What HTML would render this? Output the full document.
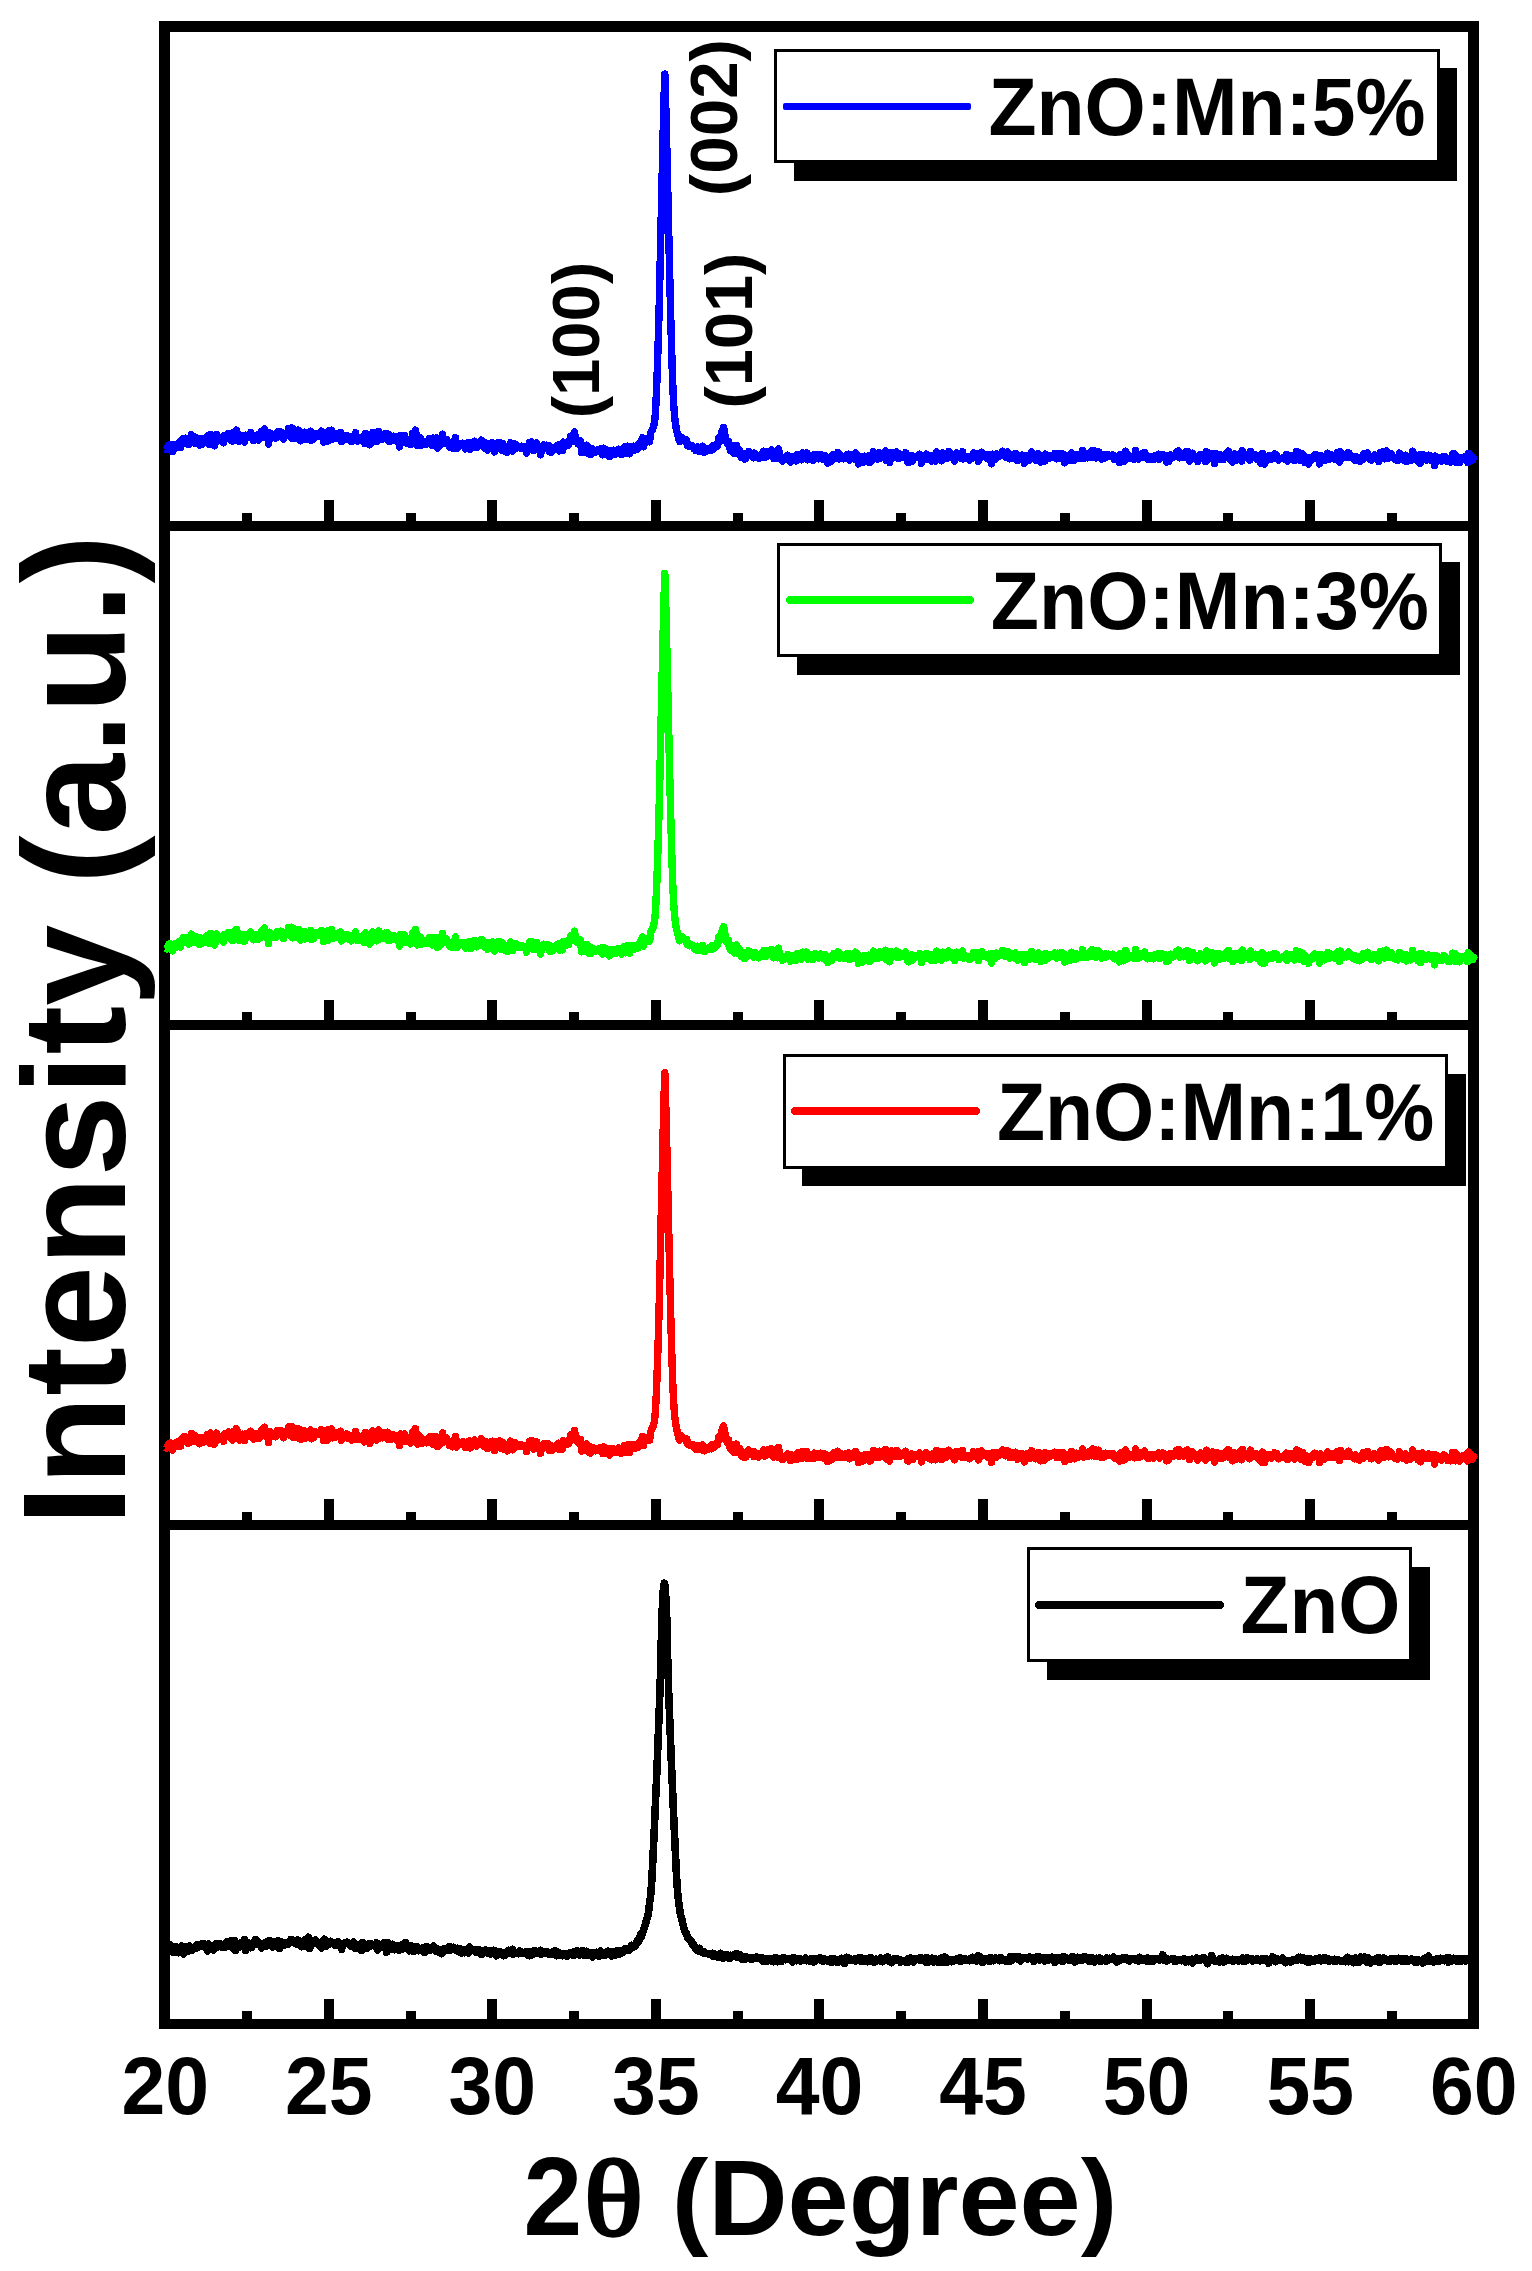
<!DOCTYPE html>
<html lang="en"><head><meta charset="utf-8"><title>XRD patterns of ZnO and ZnO:Mn thin films</title>
<style>
html,body{margin:0;padding:0;background:#fff;}
body{width:1532px;height:2271px;overflow:hidden;}
svg{display:block;}
text{font-family:"Liberation Sans",Arial,Helvetica,sans-serif;font-weight:700;fill:#000;font-kerning:none;}
.th{font-family:"Liberation Serif","DejaVu Serif",serif;font-weight:400;stroke:#000;stroke-width:3.6px;stroke-linejoin:round;}
</style></head><body>
<svg width="1532" height="2271" viewBox="0 0 1532 2271">
<rect x="0" y="0" width="1532" height="2271" fill="#fff"/>
<g shape-rendering="crispEdges"><rect x="159" y="21" width="11" height="2008" fill="#000"/><rect x="1468" y="21" width="11" height="2008" fill="#000"/><rect x="159" y="21" width="1320" height="11" fill="#000"/><rect x="159" y="521" width="1320" height="10" fill="#000"/><rect x="242" y="513" width="10" height="8" fill="#000"/><rect x="324" y="500" width="10" height="21" fill="#000"/><rect x="406" y="513" width="10" height="8" fill="#000"/><rect x="487" y="500" width="10" height="21" fill="#000"/><rect x="569" y="513" width="10" height="8" fill="#000"/><rect x="651" y="500" width="10" height="21" fill="#000"/><rect x="733" y="513" width="10" height="8" fill="#000"/><rect x="814" y="500" width="10" height="21" fill="#000"/><rect x="896" y="513" width="10" height="8" fill="#000"/><rect x="978" y="500" width="10" height="21" fill="#000"/><rect x="1060" y="513" width="10" height="8" fill="#000"/><rect x="1142" y="500" width="10" height="21" fill="#000"/><rect x="1223" y="513" width="10" height="8" fill="#000"/><rect x="1305" y="500" width="10" height="21" fill="#000"/><rect x="1387" y="513" width="10" height="8" fill="#000"/><rect x="159" y="1020" width="1320" height="10" fill="#000"/><rect x="242" y="1012" width="10" height="8" fill="#000"/><rect x="324" y="1000" width="10" height="20" fill="#000"/><rect x="406" y="1012" width="10" height="8" fill="#000"/><rect x="487" y="1000" width="10" height="20" fill="#000"/><rect x="569" y="1012" width="10" height="8" fill="#000"/><rect x="651" y="1000" width="10" height="20" fill="#000"/><rect x="733" y="1012" width="10" height="8" fill="#000"/><rect x="814" y="1000" width="10" height="20" fill="#000"/><rect x="896" y="1012" width="10" height="8" fill="#000"/><rect x="978" y="1000" width="10" height="20" fill="#000"/><rect x="1060" y="1012" width="10" height="8" fill="#000"/><rect x="1142" y="1000" width="10" height="20" fill="#000"/><rect x="1223" y="1012" width="10" height="8" fill="#000"/><rect x="1305" y="1000" width="10" height="20" fill="#000"/><rect x="1387" y="1012" width="10" height="8" fill="#000"/><rect x="159" y="1520" width="1320" height="10" fill="#000"/><rect x="242" y="1512" width="10" height="8" fill="#000"/><rect x="324" y="1499" width="10" height="21" fill="#000"/><rect x="406" y="1512" width="10" height="8" fill="#000"/><rect x="487" y="1499" width="10" height="21" fill="#000"/><rect x="569" y="1512" width="10" height="8" fill="#000"/><rect x="651" y="1499" width="10" height="21" fill="#000"/><rect x="733" y="1512" width="10" height="8" fill="#000"/><rect x="814" y="1499" width="10" height="21" fill="#000"/><rect x="896" y="1512" width="10" height="8" fill="#000"/><rect x="978" y="1499" width="10" height="21" fill="#000"/><rect x="1060" y="1512" width="10" height="8" fill="#000"/><rect x="1142" y="1499" width="10" height="21" fill="#000"/><rect x="1223" y="1512" width="10" height="8" fill="#000"/><rect x="1305" y="1499" width="10" height="21" fill="#000"/><rect x="1387" y="1512" width="10" height="8" fill="#000"/><rect x="159" y="2019" width="1320" height="10" fill="#000"/><rect x="242" y="2011" width="10" height="8" fill="#000"/><rect x="324" y="1999" width="10" height="20" fill="#000"/><rect x="406" y="2011" width="10" height="8" fill="#000"/><rect x="487" y="1999" width="10" height="20" fill="#000"/><rect x="569" y="2011" width="10" height="8" fill="#000"/><rect x="651" y="1999" width="10" height="20" fill="#000"/><rect x="733" y="2011" width="10" height="8" fill="#000"/><rect x="814" y="1999" width="10" height="20" fill="#000"/><rect x="896" y="2011" width="10" height="8" fill="#000"/><rect x="978" y="1999" width="10" height="20" fill="#000"/><rect x="1060" y="2011" width="10" height="8" fill="#000"/><rect x="1142" y="1999" width="10" height="20" fill="#000"/><rect x="1223" y="2011" width="10" height="8" fill="#000"/><rect x="1305" y="1999" width="10" height="20" fill="#000"/><rect x="1387" y="2011" width="10" height="8" fill="#000"/></g>
<g shape-rendering="crispEdges">
<polyline points="165.6,448.9 166.6,449.6 167.6,447.5 168.6,445.2 169.6,446.4 170.6,444.4 171.6,447.6 172.6,451.6 173.6,445.3 174.6,444.7 175.6,448.1 176.6,447.4 177.6,446.4 178.6,442.7 179.6,445.5 180.6,447.7 181.6,440.7 182.6,443.4 183.6,438.4 184.6,440.2 185.6,438.2 186.6,443.4 187.6,439.7 188.6,444.7 189.6,444.1 190.6,442.8 191.6,434.7 192.6,441.2 193.6,442.6 194.6,443 195.6,437.2 196.6,440.6 197.6,438.7 198.6,439.1 199.6,445.2 200.6,438.7 201.6,441.1 202.6,444.1 203.6,438.9 204.6,440.3 205.6,440.9 206.6,440.5 207.6,435.9 208.6,440.2 209.6,444.4 210.6,434.3 211.6,442.4 212.6,439.7 213.6,436.9 214.6,445.8 215.6,441.4 216.6,434.5 217.6,438.7 218.6,440.4 219.6,437.6 220.6,440.5 221.6,437.8 222.6,440.2 223.6,442.8 224.6,435.4 225.6,438.4 226.6,436 227.6,438 228.6,433.3 229.6,435.4 230.6,436.7 231.6,440.5 232.6,441.3 233.6,432.6 234.6,434.4 235.6,439.4 236.6,430.1 237.6,435.4 238.6,436.6 239.6,441.4 240.6,439.3 241.6,435.7 242.6,435.5 243.6,435.9 244.6,442.1 245.6,435.2 246.6,435.6 247.6,437.9 248.6,436.1 249.6,435.8 250.6,432.5 251.6,436.4 252.6,434.8 253.6,440.5 254.6,438.7 255.6,436.2 256.6,438.7 257.6,435 258.6,440 259.6,436.2 260.6,438.2 261.6,431.5 262.6,437.3 263.6,430 264.6,428.8 265.6,434.9 266.6,432.8 267.6,436.5 268.6,444 269.6,432.9 270.6,433.7 271.6,436.6 272.6,437.6 273.6,435.2 274.6,435.1 275.6,438.3 276.6,437.6 277.6,432 278.6,435.5 279.6,435.8 280.6,431.9 281.6,436.6 282.6,432.6 283.6,439.2 284.6,436.3 285.6,436 286.6,433.5 287.6,435.2 288.6,428.4 289.6,431.5 290.6,436.9 291.6,427.9 292.6,438.6 293.6,429.3 294.6,438.3 295.6,432.5 296.6,438.4 297.6,436.1 298.6,430.1 299.6,440.1 300.6,440.8 301.6,435.4 302.6,434.6 303.6,435.1 304.6,432.1 305.6,439.6 306.6,433.7 307.6,435.5 308.6,432.9 309.6,433.5 310.6,431.2 311.6,440.3 312.6,435.3 313.6,439.3 314.6,435.9 315.6,433.4 316.6,434.8 317.6,433.9 318.6,436 319.6,434.7 320.6,435 321.6,431.1 322.6,433.2 323.6,442.1 324.6,433.8 325.6,432.5 326.6,437.5 327.6,441.4 328.6,431.1 329.6,435.6 330.6,434.2 331.6,430.2 332.6,439.2 333.6,436.5 334.6,436.9 335.6,434 336.6,438.3 337.6,434.8 338.6,436.3 339.6,432.9 340.6,432.6 341.6,441.7 342.6,435.2 343.6,438.1 344.6,437 345.6,435.6 346.6,435.4 347.6,439.5 348.6,436.2 349.6,436.8 350.6,437.4 351.6,441.6 352.6,439.9 353.6,438.9 354.6,435.6 355.6,432.7 356.6,441 357.6,441.1 358.6,437.2 359.6,439.7 360.6,440.6 361.6,440.8 362.6,441.2 363.6,436.4 364.6,443.3 365.6,433.7 366.6,441.1 367.6,439.9 368.6,441.3 369.6,444.8 370.6,443.5 371.6,434.4 372.6,432.5 373.6,441.3 374.6,435 375.6,438.5 376.6,441.5 377.6,433 378.6,431.4 379.6,439.7 380.6,439 381.6,438.1 382.6,439.1 383.6,436.1 384.6,433.9 385.6,438.6 386.6,435.9 387.6,433.6 388.6,441.1 389.6,439.2 390.6,440.9 391.6,436.1 392.6,437.3 393.6,436.2 394.6,436.7 395.6,440.4 396.6,437.2 397.6,441.1 398.6,441.1 399.6,446.9 400.6,435.4 401.6,443.2 402.6,439.9 403.6,440.2 404.6,435.4 405.6,438.8 406.6,443 407.6,440.2 408.6,440.9 409.6,439.7 410.6,444.6 411.6,440.7 412.6,433.5 413.6,438.6 414.6,434.4 415.6,430.1 416.6,439.3 417.6,445.6 418.6,441.4 419.6,437.4 420.6,438.2 421.6,445.1 422.6,442 423.6,441.7 424.6,441.4 425.6,441.8 426.6,444.3 427.6,443.6 428.6,442.5 429.6,438.4 430.6,443.6 431.6,439.7 432.6,445.6 433.6,438 434.6,441.7 435.6,442.2 436.6,438 437.6,448 438.6,447.2 439.6,441 440.6,445.1 441.6,443.8 442.6,434.2 443.6,443.5 444.6,442.6 445.6,443.1 446.6,439.4 447.6,442.1 448.6,442.5 449.6,446.9 450.6,444.2 451.6,443.2 452.6,448.2 453.6,441.6 454.6,442.2 455.6,437.7 456.6,448.5 457.6,446.7 458.6,446.6 459.6,445.8 460.6,444.1 461.6,444.5 462.6,443.1 463.6,443.3 464.6,444.2 465.6,448.9 466.6,445.9 467.6,444 468.6,442.5 469.6,442.3 470.6,449.4 471.6,446 472.6,444.7 473.6,443.5 474.6,441.2 475.6,444.5 476.6,447.5 477.6,443.6 478.6,444.2 479.6,444.2 480.6,445.3 481.6,440.1 482.6,444.4 483.6,442.5 484.6,447.9 485.6,442.9 486.6,447.1 487.6,450.1 488.6,444.5 489.6,443.7 490.6,446.1 491.6,445.6 492.6,442.6 493.6,447.1 494.6,451.9 495.6,445 496.6,445.3 497.6,442.8 498.6,447 499.6,442.3 500.6,442.7 501.6,450 502.6,443.5 503.6,449.5 504.6,450.9 505.6,447.1 506.6,448.1 507.6,452.3 508.6,445.9 509.6,444.8 510.6,442.6 511.6,446.8 512.6,451.2 513.6,449.6 514.6,444 515.6,444.3 516.6,445.4 517.6,447.9 518.6,446.4 519.6,447.7 520.6,448 521.6,446.3 522.6,447.1 523.6,447.9 524.6,447.1 525.6,448.9 526.6,453 527.6,449.3 528.6,447.7 529.6,442.7 530.6,448.8 531.6,442 532.6,443.7 533.6,450.4 534.6,450 535.6,447.5 536.6,443 537.6,447 538.6,446.1 539.6,450 540.6,454.8 541.6,448.9 542.6,446.1 543.6,445 544.6,448.3 545.6,448 546.6,445.2 547.6,449 548.6,445.3 549.6,451.9 550.6,451.8 551.6,451.9 552.6,447.5 553.6,450.4 554.6,448.5 555.6,447.8 556.6,447.9 557.6,445.1 558.6,444.6 559.6,450.9 560.6,447.8 561.6,448.7 562.6,450.5 563.6,442.1 564.6,444.1 565.6,446.1 566.6,445.7 567.6,442.4 568.6,445.2 569.6,441.6 570.6,436.3 571.6,436 572.6,440 573.6,438.6 574.6,431.9 575.6,441.6 576.6,440.3 577.6,443.6 578.6,440.1 579.6,441.8 580.6,440.9 581.6,452.6 582.6,446.1 583.6,452.1 584.6,446.7 585.6,449.8 586.6,445.2 587.6,449.4 588.6,453.6 589.6,447.7 590.6,454.4 591.6,452.6 592.6,448.9 593.6,450.5 594.6,450.8 595.6,452 596.6,450.7 597.6,449.9 598.6,451.5 599.6,449.5 600.6,448.8 601.6,452.3 602.6,454.9 603.6,448.2 604.6,452.4 605.6,450.6 606.6,449.7 607.6,454.8 608.6,451 609.6,456.6 610.6,450.3 611.6,453.5 612.6,451.8 613.6,450.3 614.6,454 615.6,451.9 616.6,453.9 617.6,452.1 618.6,449.2 619.6,451.8 620.6,452.2 621.6,454.7 622.6,449.4 623.6,451.7 624.6,447 625.6,453.5 626.6,448.5 627.6,446.3 628.6,450.9 629.6,453.9 630.6,446.3 631.6,447.2 632.6,447.8 633.6,446.3 634.6,450 635.6,446.3 636.6,446 637.6,449 638.6,444.6 639.6,446.9 640.6,442 641.6,440.3 642.6,437.7 643.6,446.9 644.6,440.3 645.6,441.2 646.6,439.8 647.6,439.5 648.6,438.4 649.6,441.8 650.6,433.4 651.6,430.7 652.6,429.6 653.6,425.7 654.6,422.3 655.6,410 656.6,389.7 657.6,360.8 658.6,328.7 659.6,290.3 660.6,242.4 661.6,201.2 662.6,155.5 663.6,114.8 664.3,89.6 664.6,80.6 664.8,74.1 665.6,99.6 666.6,139.3 667.6,183.5 668.6,226.8 669.6,270.8 670.6,312.4 671.6,349.1 672.6,380.9 673.6,403 674.6,416.6 675.6,424.3 676.6,430.7 677.6,433.6 678.6,438.6 679.6,441.5 680.6,437.9 681.6,437.3 682.6,439.9 683.6,439.2 684.6,439.5 685.6,442 686.6,440.1 687.6,445.4 688.6,444.5 689.6,446.6 690.6,446.4 691.6,445.8 692.6,445.9 693.6,448.3 694.6,447.9 695.6,450.5 696.6,450.2 697.6,446.9 698.6,451.1 699.6,447.6 700.6,449.8 701.6,450.9 702.6,446.2 703.6,452.1 704.6,452.3 705.6,451.4 706.6,450.5 707.6,450.5 708.6,448.6 709.6,450.2 710.6,449 711.6,450.2 712.6,446 713.6,449.2 714.6,448.1 715.6,446.4 716.6,444.5 717.6,445.9 718.6,438.3 719.6,441.5 720.6,437.1 721.6,432.7 722.6,429.8 723.6,427.4 724.6,432.3 725.6,439.3 726.6,442.3 727.6,444.1 728.6,441.1 729.6,447.9 730.6,450.8 731.6,451.4 732.6,450.2 733.6,446.2 734.6,453.7 735.6,451.4 736.6,445.5 737.6,453.8 738.6,449.1 739.6,450 740.6,452 741.6,457.4 742.6,453.1 743.6,455 744.6,459.1 745.6,458.8 746.6,454.3 747.6,454.1 748.6,451.4 749.6,453 750.6,456.1 751.6,456.1 752.6,455.4 753.6,457.9 754.6,453.1 755.6,455.1 756.6,457.3 757.6,457 758.6,458.4 759.6,456.6 760.6,454.8 761.6,456.6 762.6,453 763.6,451.3 764.6,457.4 765.6,455.7 766.6,456.7 767.6,451.3 768.6,455 769.6,454.4 770.6,453.7 771.6,450 772.6,455.2 773.6,458.6 774.6,457.3 775.6,454.7 776.6,456.3 777.6,458.4 778.6,448.9 779.6,456.1 780.6,457.9 781.6,458.4 782.6,461.1 783.6,459.6 784.6,457.5 785.6,457.5 786.6,458.8 787.6,455.2 788.6,456.6 789.6,459.2 790.6,462.1 791.6,456.4 792.6,456.7 793.6,457.4 794.6,460.5 795.6,456.8 796.6,460.9 797.6,454.3 798.6,456.4 799.6,456.4 800.6,459 801.6,459.8 802.6,452.9 803.6,454.5 804.6,457.9 805.6,455.2 806.6,452.8 807.6,459.8 808.6,458.3 809.6,458.3 810.6,455.7 811.6,459.8 812.6,456.3 813.6,460 814.6,454.5 815.6,454.7 816.6,457.6 817.6,455.1 818.6,458.8 819.6,457.7 820.6,454.5 821.6,457.2 822.6,456.1 823.6,459.5 824.6,455.3 825.6,455.9 826.6,460.3 827.6,463.1 828.6,462.5 829.6,457.2 830.6,457.7 831.6,461.2 832.6,456.7 833.6,454.4 834.6,457.4 835.6,458.3 836.6,454.8 837.6,452.6 838.6,453.2 839.6,458.9 840.6,455 841.6,456.7 842.6,457.7 843.6,458.8 844.6,456.2 845.6,458.5 846.6,454.7 847.6,456.1 848.6,454.3 849.6,460.2 850.6,457 851.6,455.1 852.6,456.2 853.6,456.5 854.6,459 855.6,452.8 856.6,454.3 857.6,456.1 858.6,464 859.6,459.7 860.6,456.8 861.6,459.1 862.6,462.7 863.6,456.5 864.6,456.2 865.6,460.4 866.6,458.5 867.6,459 868.6,455.8 869.6,462.4 870.6,461.8 871.6,458.7 872.6,459 873.6,451.7 874.6,458.9 875.6,456.6 876.6,458.3 877.6,459 878.6,456.2 879.6,452.6 880.6,458.2 881.6,455.2 882.6,456.3 883.6,455.5 884.6,456.3 885.6,450.9 886.6,460.5 887.6,457.9 888.6,460.2 889.6,462.5 890.6,457.2 891.6,452.3 892.6,454.8 893.6,453.9 894.6,455.8 895.6,457.4 896.6,451.8 897.6,458.1 898.6,453.1 899.6,458 900.6,456.9 901.6,456.3 902.6,457 903.6,455.7 904.6,455.5 905.6,452.6 906.6,457.1 907.6,462.2 908.6,462.5 909.6,460.7 910.6,459.1 911.6,455.4 912.6,461.1 913.6,457 914.6,457 915.6,456.4 916.6,457.4 917.6,456 918.6,456.9 919.6,454.2 920.6,456.2 921.6,463.3 922.6,457 923.6,456.5 924.6,458.6 925.6,459.1 926.6,454.1 927.6,456.6 928.6,459.6 929.6,457.9 930.6,457.5 931.6,461.3 932.6,455.3 933.6,457.4 934.6,455.7 935.6,461.2 936.6,451.9 937.6,455.3 938.6,455.7 939.6,458.9 940.6,458.7 941.6,460.9 942.6,452.9 943.6,459.1 944.6,456.3 945.6,455.3 946.6,458.5 947.6,454.6 948.6,451.5 949.6,456.1 950.6,453 951.6,455.3 952.6,458.1 953.6,457.9 954.6,461.3 955.6,456.5 956.6,452.9 957.6,455 958.6,454.6 959.6,453.8 960.6,458.2 961.6,455.3 962.6,451.7 963.6,458.9 964.6,456.7 965.6,458 966.6,457.3 967.6,458.7 968.6,457.1 969.6,460.3 970.6,458.1 971.6,458 972.6,458.1 973.6,453 974.6,456.5 975.6,456.3 976.6,457.5 977.6,453.3 978.6,461.4 979.6,457.2 980.6,453.7 981.6,452.3 982.6,456.2 983.6,456.7 984.6,455 985.6,457.2 986.6,455.2 987.6,458.4 988.6,454.9 989.6,456.8 990.6,459.5 991.6,463.8 992.6,454.2 993.6,455.6 994.6,454.6 995.6,459 996.6,453.8 997.6,455.5 998.6,456.8 999.6,454.2 1000.6,454.3 1001.6,455.5 1002.6,451.2 1003.6,452.9 1004.6,455.7 1005.6,457.2 1006.6,456.3 1007.6,452 1008.6,455.5 1009.6,458.9 1010.6,458.3 1011.6,456.6 1012.6,454.4 1013.6,458.5 1014.6,455.2 1015.6,453.6 1016.6,454.6 1017.6,460.7 1018.6,457.3 1019.6,459.9 1020.6,455.4 1021.6,459.3 1022.6,455.1 1023.6,456.3 1024.6,463.4 1025.6,458.8 1026.6,455.3 1027.6,456.5 1028.6,457.6 1029.6,460 1030.6,455.4 1031.6,452 1032.6,455.9 1033.6,456.7 1034.6,457 1035.6,460.2 1036.6,457.5 1037.6,458.8 1038.6,453.7 1039.6,459 1040.6,462.3 1041.6,458.7 1042.6,457.3 1043.6,457 1044.6,461.4 1045.6,454.1 1046.6,456.3 1047.6,457.8 1048.6,458.6 1049.6,455.4 1050.6,457.4 1051.6,455.8 1052.6,456.9 1053.6,456.2 1054.6,453.5 1055.6,456.5 1056.6,458.9 1057.6,453.9 1058.6,455.9 1059.6,458.3 1060.6,453.7 1061.6,457 1062.6,453.7 1063.6,459.6 1064.6,462.8 1065.6,462 1066.6,455.9 1067.6,458.5 1068.6,456.8 1069.6,456.8 1070.6,460.7 1071.6,452.9 1072.6,459.3 1073.6,456.3 1074.6,460.3 1075.6,456.9 1076.6,454.6 1077.6,457.2 1078.6,458.4 1079.6,456.4 1080.6,457.6 1081.6,454.8 1082.6,450.3 1083.6,458.4 1084.6,457.7 1085.6,456 1086.6,455.5 1087.6,457.9 1088.6,453.6 1089.6,452.6 1090.6,453.8 1091.6,457.3 1092.6,450.3 1093.6,457.2 1094.6,452.4 1095.6,451.4 1096.6,458 1097.6,454.6 1098.6,451.6 1099.6,454.4 1100.6,458.1 1101.6,459 1102.6,454.8 1103.6,457.2 1104.6,458.1 1105.6,454.5 1106.6,457.3 1107.6,456.3 1108.6,454.9 1109.6,455.1 1110.6,456.6 1111.6,456.5 1112.6,454.9 1113.6,455.3 1114.6,459.5 1115.6,457 1116.6,458.9 1117.6,459.7 1118.6,458.1 1119.6,462.6 1120.6,454.3 1121.6,458.7 1122.6,455.6 1123.6,461.5 1124.6,461.1 1125.6,451.2 1126.6,453.9 1127.6,458.3 1128.6,458.7 1129.6,458.5 1130.6,456.3 1131.6,457.8 1132.6,458.3 1133.6,456.3 1134.6,459.3 1135.6,450.4 1136.6,458.3 1137.6,453.8 1138.6,459.1 1139.6,455.9 1140.6,454.2 1141.6,457.6 1142.6,454.1 1143.6,454.1 1144.6,452.4 1145.6,456.5 1146.6,457.9 1147.6,459.4 1148.6,456.2 1149.6,459.4 1150.6,456.7 1151.6,456.4 1152.6,458.2 1153.6,459.5 1154.6,455.7 1155.6,456 1156.6,456.2 1157.6,456.9 1158.6,454.2 1159.6,459.4 1160.6,455.6 1161.6,457.9 1162.6,454.4 1163.6,457.6 1164.6,457.7 1165.6,455.6 1166.6,462.2 1167.6,457.7 1168.6,461.5 1169.6,459.3 1170.6,454.9 1171.6,455.7 1172.6,457.9 1173.6,456.9 1174.6,456.9 1175.6,456 1176.6,451.9 1177.6,456.2 1178.6,450.8 1179.6,457.8 1180.6,454.8 1181.6,454.9 1182.6,456.2 1183.6,457.5 1184.6,452.9 1185.6,452.1 1186.6,453.9 1187.6,451.3 1188.6,454.2 1189.6,461.1 1190.6,454 1191.6,458.6 1192.6,453.2 1193.6,457.7 1194.6,456 1195.6,456.7 1196.6,458.4 1197.6,461.6 1198.6,457.4 1199.6,457.2 1200.6,454.3 1201.6,458.5 1202.6,456.3 1203.6,459.2 1204.6,456.8 1205.6,461.6 1206.6,451.6 1207.6,456.2 1208.6,459.3 1209.6,456 1210.6,454.8 1211.6,456.3 1212.6,453.3 1213.6,457.3 1214.6,463.6 1215.6,460.1 1216.6,454 1217.6,454.7 1218.6,455.9 1219.6,459.7 1220.6,454.8 1221.6,455.2 1222.6,459.4 1223.6,459.4 1224.6,456.1 1225.6,454.1 1226.6,452.9 1227.6,455.2 1228.6,451.1 1229.6,459.1 1230.6,455.4 1231.6,458.4 1232.6,462.2 1233.6,460.3 1234.6,454 1235.6,459.5 1236.6,460.3 1237.6,455.1 1238.6,454.6 1239.6,456.9 1240.6,452.9 1241.6,461.2 1242.6,450.7 1243.6,454.2 1244.6,456.5 1245.6,456.6 1246.6,457.7 1247.6,458 1248.6,456.7 1249.6,460.3 1250.6,451.5 1251.6,457.2 1252.6,455.3 1253.6,457.6 1254.6,457.9 1255.6,454.8 1256.6,455.5 1257.6,459.4 1258.6,458.2 1259.6,455.5 1260.6,462.8 1261.6,463.5 1262.6,453.4 1263.6,458.1 1264.6,464.1 1265.6,459.4 1266.6,457.9 1267.6,456.8 1268.6,455.9 1269.6,456.8 1270.6,455.9 1271.6,459.4 1272.6,456.3 1273.6,456.2 1274.6,454.1 1275.6,457.3 1276.6,455 1277.6,456.9 1278.6,460.2 1279.6,458.4 1280.6,458.8 1281.6,458.4 1282.6,457.6 1283.6,457.1 1284.6,456.6 1285.6,459.5 1286.6,454.5 1287.6,461.1 1288.6,457.5 1289.6,455.4 1290.6,456.1 1291.6,455.6 1292.6,457.9 1293.6,455.5 1294.6,460.6 1295.6,455.4 1296.6,451.3 1297.6,455.5 1298.6,452.1 1299.6,457.4 1300.6,460.4 1301.6,459.2 1302.6,453.9 1303.6,455.4 1304.6,462.3 1305.6,458.4 1306.6,457.5 1307.6,460.4 1308.6,464.1 1309.6,461 1310.6,457.9 1311.6,458.5 1312.6,459.2 1313.6,455.9 1314.6,454.7 1315.6,457.7 1316.6,455 1317.6,457.4 1318.6,457.8 1319.6,463.9 1320.6,455.3 1321.6,457.2 1322.6,457.1 1323.6,458.8 1324.6,460.4 1325.6,456.3 1326.6,455.4 1327.6,453.2 1328.6,455.1 1329.6,459 1330.6,457.7 1331.6,454.9 1332.6,456.6 1333.6,457.7 1334.6,459 1335.6,456 1336.6,456.9 1337.6,452.7 1338.6,454.5 1339.6,462 1340.6,451.7 1341.6,456.7 1342.6,458.2 1343.6,456.6 1344.6,455.4 1345.6,457.5 1346.6,457.6 1347.6,457.4 1348.6,452.6 1349.6,457.2 1350.6,455.3 1351.6,456.2 1352.6,458.3 1353.6,459.4 1354.6,460.1 1355.6,456.3 1356.6,460.1 1357.6,460.8 1358.6,460.7 1359.6,461.4 1360.6,457.3 1361.6,457.2 1362.6,459.9 1363.6,454 1364.6,458.2 1365.6,456.2 1366.6,456.6 1367.6,452.9 1368.6,455.2 1369.6,457.5 1370.6,460 1371.6,460.2 1372.6,457.3 1373.6,457 1374.6,455.1 1375.6,458.4 1376.6,456.5 1377.6,458.7 1378.6,461.6 1379.6,456.5 1380.6,452.3 1381.6,453.8 1382.6,451.9 1383.6,452.3 1384.6,458.8 1385.6,455.7 1386.6,450.8 1387.6,456.6 1388.6,458.2 1389.6,453.9 1390.6,453.3 1391.6,454.4 1392.6,456.4 1393.6,457.6 1394.6,459.4 1395.6,459.7 1396.6,459.9 1397.6,460.6 1398.6,458.9 1399.6,453.1 1400.6,457 1401.6,458.3 1402.6,456.5 1403.6,460.1 1404.6,456.7 1405.6,455.2 1406.6,461.6 1407.6,459.5 1408.6,458.3 1409.6,460.3 1410.6,460.6 1411.6,458.7 1412.6,451.2 1413.6,456 1414.6,456.6 1415.6,455.2 1416.6,458.4 1417.6,461 1418.6,456.5 1419.6,454.8 1420.6,463.3 1421.6,456.6 1422.6,454.5 1423.6,458.5 1424.6,459 1425.6,456 1426.6,460 1427.6,456.6 1428.6,455.4 1429.6,458.4 1430.6,460 1431.6,456.2 1432.6,458.8 1433.6,457.6 1434.6,465.5 1435.6,456 1436.6,461.6 1437.6,457.8 1438.6,457.6 1439.6,459.9 1440.6,460.3 1441.6,461.3 1442.6,458.8 1443.6,456.3 1444.6,456.5 1445.6,459.3 1446.6,459.5 1447.6,461.7 1448.6,459.1 1449.6,460.8 1450.6,462 1451.6,458.4 1452.6,453.9 1453.6,454.8 1454.6,454.1 1455.6,462.2 1456.6,455.7 1457.6,461.3 1458.6,459.5 1459.6,462.6 1460.6,460.7 1461.6,457.7 1462.6,457.4 1463.6,458.2 1464.6,458.4 1465.6,456.5 1466.6,457.9 1467.6,462.3 1468.6,453.4 1469.6,458.7 1470.6,455.5 1471.6,458.5 1472.6,460.3 1473.6,457.8 1474.6,460.1" fill="none" stroke="#0000ff" stroke-width="7.4" stroke-linejoin="round" stroke-linecap="butt"/>
<polyline points="165.6,948.2 166.6,948.9 167.6,946.8 168.6,944.5 169.6,945.7 170.6,943.7 171.6,946.9 172.6,950.9 173.6,944.6 174.6,944 175.6,947.4 176.6,946.7 177.6,945.7 178.6,942 179.6,944.8 180.6,947 181.6,940 182.6,942.7 183.6,937.7 184.6,939.5 185.6,937.5 186.6,942.7 187.6,939 188.6,944 189.6,943.4 190.6,942.1 191.6,934 192.6,940.5 193.6,941.9 194.6,942.3 195.6,936.5 196.6,939.9 197.6,938 198.6,938.4 199.6,944.5 200.6,938 201.6,940.4 202.6,943.4 203.6,938.2 204.6,939.6 205.6,940.2 206.6,939.8 207.6,935.2 208.6,939.5 209.6,943.7 210.6,933.6 211.6,941.7 212.6,939 213.6,936.2 214.6,945.1 215.6,940.7 216.6,933.8 217.6,938 218.6,939.7 219.6,936.9 220.6,939.8 221.6,937.1 222.6,939.5 223.6,942.1 224.6,934.7 225.6,937.7 226.6,935.3 227.6,937.3 228.6,932.6 229.6,934.7 230.6,936 231.6,939.8 232.6,940.6 233.6,931.9 234.6,933.7 235.6,938.7 236.6,929.4 237.6,934.7 238.6,935.9 239.6,940.7 240.6,938.6 241.6,935 242.6,934.8 243.6,935.2 244.6,941.4 245.6,934.5 246.6,934.9 247.6,937.2 248.6,935.4 249.6,935.1 250.6,931.8 251.6,935.7 252.6,934.1 253.6,939.8 254.6,938 255.6,935.5 256.6,938 257.6,934.3 258.6,939.3 259.6,935.5 260.6,937.5 261.6,930.8 262.6,936.6 263.6,929.3 264.6,928.1 265.6,934.2 266.6,932.1 267.6,935.8 268.6,943.3 269.6,932.2 270.6,933 271.6,935.9 272.6,936.9 273.6,934.5 274.6,934.4 275.6,937.6 276.6,936.9 277.6,931.3 278.6,934.8 279.6,935.1 280.6,931.2 281.6,935.9 282.6,931.9 283.6,938.5 284.6,935.6 285.6,935.3 286.6,932.8 287.6,934.5 288.6,927.7 289.6,930.8 290.6,936.2 291.6,927.2 292.6,937.9 293.6,928.6 294.6,937.6 295.6,931.8 296.6,937.7 297.6,935.4 298.6,929.4 299.6,939.4 300.6,940.1 301.6,934.7 302.6,933.9 303.6,934.4 304.6,931.4 305.6,938.9 306.6,933 307.6,934.8 308.6,932.2 309.6,932.8 310.6,930.5 311.6,939.6 312.6,934.6 313.6,938.6 314.6,935.2 315.6,932.7 316.6,934.1 317.6,933.2 318.6,935.3 319.6,934 320.6,934.3 321.6,930.4 322.6,932.5 323.6,941.4 324.6,933.1 325.6,931.8 326.6,936.8 327.6,940.7 328.6,930.4 329.6,934.9 330.6,933.5 331.6,929.5 332.6,938.5 333.6,935.8 334.6,936.2 335.6,933.3 336.6,937.6 337.6,934.1 338.6,935.6 339.6,932.2 340.6,931.9 341.6,941 342.6,934.5 343.6,937.4 344.6,936.3 345.6,934.9 346.6,934.7 347.6,938.8 348.6,935.5 349.6,936.1 350.6,936.7 351.6,940.9 352.6,939.2 353.6,938.2 354.6,934.9 355.6,932 356.6,940.3 357.6,940.4 358.6,936.5 359.6,939 360.6,939.9 361.6,940.1 362.6,940.5 363.6,935.7 364.6,942.6 365.6,933 366.6,940.4 367.6,939.2 368.6,940.6 369.6,944.1 370.6,942.8 371.6,933.7 372.6,931.8 373.6,940.6 374.6,934.3 375.6,937.8 376.6,940.8 377.6,932.3 378.6,930.7 379.6,939 380.6,938.3 381.6,937.4 382.6,938.4 383.6,935.4 384.6,933.2 385.6,937.9 386.6,935.2 387.6,932.9 388.6,940.4 389.6,938.5 390.6,940.2 391.6,935.4 392.6,936.6 393.6,935.5 394.6,936 395.6,939.7 396.6,936.5 397.6,940.4 398.6,940.4 399.6,946.2 400.6,934.7 401.6,942.5 402.6,939.2 403.6,939.5 404.6,934.7 405.6,938.1 406.6,942.3 407.6,939.5 408.6,940.2 409.6,939 410.6,943.9 411.6,940 412.6,932.8 413.6,937.9 414.6,933.7 415.6,929.4 416.6,938.6 417.6,944.9 418.6,940.7 419.6,936.7 420.6,937.5 421.6,944.4 422.6,941.3 423.6,941 424.6,940.7 425.6,941.1 426.6,943.6 427.6,942.9 428.6,941.8 429.6,937.7 430.6,942.9 431.6,939 432.6,944.9 433.6,937.3 434.6,941 435.6,941.5 436.6,937.3 437.6,947.3 438.6,946.5 439.6,940.3 440.6,944.4 441.6,943.1 442.6,933.5 443.6,942.8 444.6,941.9 445.6,942.4 446.6,938.7 447.6,941.4 448.6,941.8 449.6,946.2 450.6,943.5 451.6,942.5 452.6,947.5 453.6,940.9 454.6,941.5 455.6,937 456.6,947.8 457.6,946 458.6,945.9 459.6,945.1 460.6,943.4 461.6,943.8 462.6,942.4 463.6,942.6 464.6,943.5 465.6,948.2 466.6,945.2 467.6,943.3 468.6,941.8 469.6,941.6 470.6,948.7 471.6,945.3 472.6,944 473.6,942.8 474.6,940.5 475.6,943.8 476.6,946.8 477.6,942.9 478.6,943.5 479.6,943.5 480.6,944.6 481.6,939.4 482.6,943.7 483.6,941.8 484.6,947.2 485.6,942.2 486.6,946.4 487.6,949.4 488.6,943.8 489.6,943 490.6,945.4 491.6,944.9 492.6,941.9 493.6,946.4 494.6,951.2 495.6,944.3 496.6,944.6 497.6,942.1 498.6,946.3 499.6,941.6 500.6,942 501.6,949.3 502.6,942.8 503.6,948.8 504.6,950.2 505.6,946.4 506.6,947.4 507.6,951.6 508.6,945.2 509.6,944.1 510.6,941.9 511.6,946.1 512.6,950.5 513.6,948.9 514.6,943.3 515.6,943.6 516.6,944.7 517.6,947.2 518.6,945.7 519.6,947 520.6,947.3 521.6,945.6 522.6,946.4 523.6,947.2 524.6,946.4 525.6,948.2 526.6,952.3 527.6,948.6 528.6,947 529.6,942 530.6,948.1 531.6,941.3 532.6,943 533.6,949.7 534.6,949.3 535.6,946.8 536.6,942.3 537.6,946.3 538.6,945.4 539.6,949.3 540.6,954.1 541.6,948.2 542.6,945.4 543.6,944.3 544.6,947.6 545.6,947.3 546.6,944.5 547.6,948.3 548.6,944.6 549.6,951.2 550.6,951.1 551.6,951.2 552.6,946.8 553.6,949.7 554.6,947.8 555.6,947.1 556.6,947.2 557.6,944.4 558.6,943.9 559.6,950.2 560.6,947.1 561.6,948 562.6,949.8 563.6,941.4 564.6,943.4 565.6,945.4 566.6,945 567.6,941.7 568.6,944.5 569.6,940.9 570.6,935.6 571.6,935.3 572.6,939.3 573.6,937.9 574.6,931.2 575.6,940.9 576.6,939.6 577.6,942.9 578.6,939.4 579.6,941.1 580.6,940.2 581.6,951.9 582.6,945.4 583.6,951.4 584.6,946 585.6,949.1 586.6,944.5 587.6,948.7 588.6,952.9 589.6,947 590.6,953.7 591.6,951.9 592.6,948.2 593.6,949.8 594.6,950.1 595.6,951.3 596.6,950 597.6,949.2 598.6,950.8 599.6,948.8 600.6,948.1 601.6,951.6 602.6,954.2 603.6,947.5 604.6,951.7 605.6,949.9 606.6,949 607.6,954.1 608.6,950.3 609.6,955.9 610.6,949.6 611.6,952.8 612.6,951.1 613.6,949.6 614.6,953.3 615.6,951.2 616.6,953.2 617.6,951.4 618.6,948.5 619.6,951.1 620.6,951.5 621.6,954 622.6,948.7 623.6,951 624.6,946.3 625.6,952.8 626.6,947.8 627.6,945.6 628.6,950.2 629.6,953.2 630.6,945.6 631.6,946.5 632.6,947.1 633.6,945.6 634.6,949.3 635.6,945.6 636.6,945.3 637.6,948.3 638.6,943.9 639.6,946.2 640.6,941.3 641.6,939.6 642.6,937 643.6,946.2 644.6,939.6 645.6,940.5 646.6,939.1 647.6,938.8 648.6,937.7 649.6,941.1 650.6,932.7 651.6,930 652.6,928.9 653.6,925 654.6,921.6 655.6,909.3 656.6,889 657.6,860.1 658.6,828 659.6,789.6 660.6,741.7 661.6,700.5 662.6,654.8 663.6,614.1 664.3,588.9 664.6,579.9 664.8,573.4 665.6,598.9 666.6,638.6 667.6,682.8 668.6,726.1 669.6,770.1 670.6,811.7 671.6,848.4 672.6,880.2 673.6,902.3 674.6,915.9 675.6,923.6 676.6,930 677.6,932.9 678.6,937.9 679.6,940.8 680.6,937.2 681.6,936.6 682.6,939.2 683.6,938.5 684.6,938.8 685.6,941.3 686.6,939.4 687.6,944.7 688.6,943.8 689.6,945.9 690.6,945.7 691.6,945.1 692.6,945.2 693.6,947.6 694.6,947.2 695.6,949.8 696.6,949.5 697.6,946.2 698.6,950.4 699.6,946.9 700.6,949.1 701.6,950.2 702.6,945.5 703.6,951.4 704.6,951.6 705.6,950.7 706.6,949.8 707.6,949.8 708.6,947.9 709.6,949.5 710.6,948.3 711.6,949.5 712.6,945.3 713.6,948.5 714.6,947.4 715.6,945.7 716.6,943.8 717.6,945.2 718.6,937.6 719.6,940.8 720.6,936.4 721.6,932 722.6,929.1 723.6,926.7 724.6,931.6 725.6,938.6 726.6,941.6 727.6,943.4 728.6,940.4 729.6,947.2 730.6,950.1 731.6,950.7 732.6,949.5 733.6,945.5 734.6,953 735.6,950.7 736.6,944.8 737.6,953.1 738.6,948.4 739.6,949.3 740.6,951.3 741.6,956.7 742.6,952.4 743.6,954.3 744.6,958.4 745.6,958.1 746.6,953.6 747.6,953.4 748.6,950.7 749.6,952.3 750.6,955.4 751.6,955.4 752.6,954.7 753.6,957.2 754.6,952.4 755.6,954.4 756.6,956.6 757.6,956.3 758.6,957.7 759.6,955.9 760.6,954.1 761.6,955.9 762.6,952.3 763.6,950.6 764.6,956.7 765.6,955 766.6,956 767.6,950.6 768.6,954.3 769.6,953.7 770.6,953 771.6,949.3 772.6,954.5 773.6,957.9 774.6,956.6 775.6,954 776.6,955.6 777.6,957.7 778.6,948.2 779.6,955.4 780.6,957.2 781.6,957.7 782.6,960.4 783.6,958.9 784.6,956.8 785.6,956.8 786.6,958.1 787.6,954.5 788.6,955.9 789.6,958.5 790.6,961.4 791.6,955.7 792.6,956 793.6,956.7 794.6,959.8 795.6,956.1 796.6,960.2 797.6,953.6 798.6,955.7 799.6,955.7 800.6,958.3 801.6,959.1 802.6,952.2 803.6,953.8 804.6,957.2 805.6,954.5 806.6,952.1 807.6,959.1 808.6,957.6 809.6,957.6 810.6,955 811.6,959.1 812.6,955.6 813.6,959.3 814.6,953.8 815.6,954 816.6,956.9 817.6,954.4 818.6,958.1 819.6,957 820.6,953.8 821.6,956.5 822.6,955.4 823.6,958.8 824.6,954.6 825.6,955.2 826.6,959.6 827.6,962.4 828.6,961.8 829.6,956.5 830.6,957 831.6,960.5 832.6,956 833.6,953.7 834.6,956.7 835.6,957.6 836.6,954.1 837.6,951.9 838.6,952.5 839.6,958.2 840.6,954.3 841.6,956 842.6,957 843.6,958.1 844.6,955.5 845.6,957.8 846.6,954 847.6,955.4 848.6,953.6 849.6,959.5 850.6,956.3 851.6,954.4 852.6,955.5 853.6,955.8 854.6,958.3 855.6,952.1 856.6,953.6 857.6,955.4 858.6,963.3 859.6,959 860.6,956.1 861.6,958.4 862.6,962 863.6,955.8 864.6,955.5 865.6,959.7 866.6,957.8 867.6,958.3 868.6,955.1 869.6,961.7 870.6,961.1 871.6,958 872.6,958.3 873.6,951 874.6,958.2 875.6,955.9 876.6,957.6 877.6,958.3 878.6,955.5 879.6,951.9 880.6,957.5 881.6,954.5 882.6,955.6 883.6,954.8 884.6,955.6 885.6,950.2 886.6,959.8 887.6,957.2 888.6,959.5 889.6,961.8 890.6,956.5 891.6,951.6 892.6,954.1 893.6,953.2 894.6,955.1 895.6,956.7 896.6,951.1 897.6,957.4 898.6,952.4 899.6,957.3 900.6,956.2 901.6,955.6 902.6,956.3 903.6,955 904.6,954.8 905.6,951.9 906.6,956.4 907.6,961.5 908.6,961.8 909.6,960 910.6,958.4 911.6,954.7 912.6,960.4 913.6,956.3 914.6,956.3 915.6,955.7 916.6,956.7 917.6,955.3 918.6,956.2 919.6,953.5 920.6,955.5 921.6,962.6 922.6,956.3 923.6,955.8 924.6,957.9 925.6,958.4 926.6,953.4 927.6,955.9 928.6,958.9 929.6,957.2 930.6,956.8 931.6,960.6 932.6,954.6 933.6,956.7 934.6,955 935.6,960.5 936.6,951.2 937.6,954.6 938.6,955 939.6,958.2 940.6,958 941.6,960.2 942.6,952.2 943.6,958.4 944.6,955.6 945.6,954.6 946.6,957.8 947.6,953.9 948.6,950.8 949.6,955.4 950.6,952.3 951.6,954.6 952.6,957.4 953.6,957.2 954.6,960.6 955.6,955.8 956.6,952.2 957.6,954.3 958.6,953.9 959.6,953.1 960.6,957.5 961.6,954.6 962.6,951 963.6,958.2 964.6,956 965.6,957.3 966.6,956.6 967.6,958 968.6,956.4 969.6,959.6 970.6,957.4 971.6,957.3 972.6,957.4 973.6,952.3 974.6,955.8 975.6,955.6 976.6,956.8 977.6,952.6 978.6,960.7 979.6,956.5 980.6,953 981.6,951.6 982.6,955.5 983.6,956 984.6,954.3 985.6,956.5 986.6,954.5 987.6,957.7 988.6,954.2 989.6,956.1 990.6,958.8 991.6,963.1 992.6,953.5 993.6,954.9 994.6,953.9 995.6,958.3 996.6,953.1 997.6,954.8 998.6,956.1 999.6,953.5 1000.6,953.6 1001.6,954.8 1002.6,950.5 1003.6,952.2 1004.6,955 1005.6,956.5 1006.6,955.6 1007.6,951.3 1008.6,954.8 1009.6,958.2 1010.6,957.6 1011.6,955.9 1012.6,953.7 1013.6,957.8 1014.6,954.5 1015.6,952.9 1016.6,953.9 1017.6,960 1018.6,956.6 1019.6,959.2 1020.6,954.7 1021.6,958.6 1022.6,954.4 1023.6,955.6 1024.6,962.7 1025.6,958.1 1026.6,954.6 1027.6,955.8 1028.6,956.9 1029.6,959.3 1030.6,954.7 1031.6,951.3 1032.6,955.2 1033.6,956 1034.6,956.3 1035.6,959.5 1036.6,956.8 1037.6,958.1 1038.6,953 1039.6,958.3 1040.6,961.6 1041.6,958 1042.6,956.6 1043.6,956.3 1044.6,960.7 1045.6,953.4 1046.6,955.6 1047.6,957.1 1048.6,957.9 1049.6,954.7 1050.6,956.7 1051.6,955.1 1052.6,956.2 1053.6,955.5 1054.6,952.8 1055.6,955.8 1056.6,958.2 1057.6,953.2 1058.6,955.2 1059.6,957.6 1060.6,953 1061.6,956.3 1062.6,953 1063.6,958.9 1064.6,962.1 1065.6,961.3 1066.6,955.2 1067.6,957.8 1068.6,956.1 1069.6,956.1 1070.6,960 1071.6,952.2 1072.6,958.6 1073.6,955.6 1074.6,959.6 1075.6,956.2 1076.6,953.9 1077.6,956.5 1078.6,957.7 1079.6,955.7 1080.6,956.9 1081.6,954.1 1082.6,949.6 1083.6,957.7 1084.6,957 1085.6,955.3 1086.6,954.8 1087.6,957.2 1088.6,952.9 1089.6,951.9 1090.6,953.1 1091.6,956.6 1092.6,949.6 1093.6,956.5 1094.6,951.7 1095.6,950.7 1096.6,957.3 1097.6,953.9 1098.6,950.9 1099.6,953.7 1100.6,957.4 1101.6,958.3 1102.6,954.1 1103.6,956.5 1104.6,957.4 1105.6,953.8 1106.6,956.6 1107.6,955.6 1108.6,954.2 1109.6,954.4 1110.6,955.9 1111.6,955.8 1112.6,954.2 1113.6,954.6 1114.6,958.8 1115.6,956.3 1116.6,958.2 1117.6,959 1118.6,957.4 1119.6,961.9 1120.6,953.6 1121.6,958 1122.6,954.9 1123.6,960.8 1124.6,960.4 1125.6,950.5 1126.6,953.2 1127.6,957.6 1128.6,958 1129.6,957.8 1130.6,955.6 1131.6,957.1 1132.6,957.6 1133.6,955.6 1134.6,958.6 1135.6,949.7 1136.6,957.6 1137.6,953.1 1138.6,958.4 1139.6,955.2 1140.6,953.5 1141.6,956.9 1142.6,953.4 1143.6,953.4 1144.6,951.7 1145.6,955.8 1146.6,957.2 1147.6,958.7 1148.6,955.5 1149.6,958.7 1150.6,956 1151.6,955.7 1152.6,957.5 1153.6,958.8 1154.6,955 1155.6,955.3 1156.6,955.5 1157.6,956.2 1158.6,953.5 1159.6,958.7 1160.6,954.9 1161.6,957.2 1162.6,953.7 1163.6,956.9 1164.6,957 1165.6,954.9 1166.6,961.5 1167.6,957 1168.6,960.8 1169.6,958.6 1170.6,954.2 1171.6,955 1172.6,957.2 1173.6,956.2 1174.6,956.2 1175.6,955.3 1176.6,951.2 1177.6,955.5 1178.6,950.1 1179.6,957.1 1180.6,954.1 1181.6,954.2 1182.6,955.5 1183.6,956.8 1184.6,952.2 1185.6,951.4 1186.6,953.2 1187.6,950.6 1188.6,953.5 1189.6,960.4 1190.6,953.3 1191.6,957.9 1192.6,952.5 1193.6,957 1194.6,955.3 1195.6,956 1196.6,957.7 1197.6,960.9 1198.6,956.7 1199.6,956.5 1200.6,953.6 1201.6,957.8 1202.6,955.6 1203.6,958.5 1204.6,956.1 1205.6,960.9 1206.6,950.9 1207.6,955.5 1208.6,958.6 1209.6,955.3 1210.6,954.1 1211.6,955.6 1212.6,952.6 1213.6,956.6 1214.6,962.9 1215.6,959.4 1216.6,953.3 1217.6,954 1218.6,955.2 1219.6,959 1220.6,954.1 1221.6,954.5 1222.6,958.7 1223.6,958.7 1224.6,955.4 1225.6,953.4 1226.6,952.2 1227.6,954.5 1228.6,950.4 1229.6,958.4 1230.6,954.7 1231.6,957.7 1232.6,961.5 1233.6,959.6 1234.6,953.3 1235.6,958.8 1236.6,959.6 1237.6,954.4 1238.6,953.9 1239.6,956.2 1240.6,952.2 1241.6,960.5 1242.6,950 1243.6,953.5 1244.6,955.8 1245.6,955.9 1246.6,957 1247.6,957.3 1248.6,956 1249.6,959.6 1250.6,950.8 1251.6,956.5 1252.6,954.6 1253.6,956.9 1254.6,957.2 1255.6,954.1 1256.6,954.8 1257.6,958.7 1258.6,957.5 1259.6,954.8 1260.6,962.1 1261.6,962.8 1262.6,952.7 1263.6,957.4 1264.6,963.4 1265.6,958.7 1266.6,957.2 1267.6,956.1 1268.6,955.2 1269.6,956.1 1270.6,955.2 1271.6,958.7 1272.6,955.6 1273.6,955.5 1274.6,953.4 1275.6,956.6 1276.6,954.3 1277.6,956.2 1278.6,959.5 1279.6,957.7 1280.6,958.1 1281.6,957.7 1282.6,956.9 1283.6,956.4 1284.6,955.9 1285.6,958.8 1286.6,953.8 1287.6,960.4 1288.6,956.8 1289.6,954.7 1290.6,955.4 1291.6,954.9 1292.6,957.2 1293.6,954.8 1294.6,959.9 1295.6,954.7 1296.6,950.6 1297.6,954.8 1298.6,951.4 1299.6,956.7 1300.6,959.7 1301.6,958.5 1302.6,953.2 1303.6,954.7 1304.6,961.6 1305.6,957.7 1306.6,956.8 1307.6,959.7 1308.6,963.4 1309.6,960.3 1310.6,957.2 1311.6,957.8 1312.6,958.5 1313.6,955.2 1314.6,954 1315.6,957 1316.6,954.3 1317.6,956.7 1318.6,957.1 1319.6,963.2 1320.6,954.6 1321.6,956.5 1322.6,956.4 1323.6,958.1 1324.6,959.7 1325.6,955.6 1326.6,954.7 1327.6,952.5 1328.6,954.4 1329.6,958.3 1330.6,957 1331.6,954.2 1332.6,955.9 1333.6,957 1334.6,958.3 1335.6,955.3 1336.6,956.2 1337.6,952 1338.6,953.8 1339.6,961.3 1340.6,951 1341.6,956 1342.6,957.5 1343.6,955.9 1344.6,954.7 1345.6,956.8 1346.6,956.9 1347.6,956.7 1348.6,951.9 1349.6,956.5 1350.6,954.6 1351.6,955.5 1352.6,957.6 1353.6,958.7 1354.6,959.4 1355.6,955.6 1356.6,959.4 1357.6,960.1 1358.6,960 1359.6,960.7 1360.6,956.6 1361.6,956.5 1362.6,959.2 1363.6,953.3 1364.6,957.5 1365.6,955.5 1366.6,955.9 1367.6,952.2 1368.6,954.5 1369.6,956.8 1370.6,959.3 1371.6,959.5 1372.6,956.6 1373.6,956.3 1374.6,954.4 1375.6,957.7 1376.6,955.8 1377.6,958 1378.6,960.9 1379.6,955.8 1380.6,951.6 1381.6,953.1 1382.6,951.2 1383.6,951.6 1384.6,958.1 1385.6,955 1386.6,950.1 1387.6,955.9 1388.6,957.5 1389.6,953.2 1390.6,952.6 1391.6,953.7 1392.6,955.7 1393.6,956.9 1394.6,958.7 1395.6,959 1396.6,959.2 1397.6,959.9 1398.6,958.2 1399.6,952.4 1400.6,956.3 1401.6,957.6 1402.6,955.8 1403.6,959.4 1404.6,956 1405.6,954.5 1406.6,960.9 1407.6,958.8 1408.6,957.6 1409.6,959.6 1410.6,959.9 1411.6,958 1412.6,950.5 1413.6,955.3 1414.6,955.9 1415.6,954.5 1416.6,957.7 1417.6,960.3 1418.6,955.8 1419.6,954.1 1420.6,962.6 1421.6,955.9 1422.6,953.8 1423.6,957.8 1424.6,958.3 1425.6,955.3 1426.6,959.3 1427.6,955.9 1428.6,954.7 1429.6,957.7 1430.6,959.3 1431.6,955.5 1432.6,958.1 1433.6,956.9 1434.6,964.8 1435.6,955.3 1436.6,960.9 1437.6,957.1 1438.6,956.9 1439.6,959.2 1440.6,959.6 1441.6,960.6 1442.6,958.1 1443.6,955.6 1444.6,955.8 1445.6,958.6 1446.6,958.8 1447.6,961 1448.6,958.4 1449.6,960.1 1450.6,961.3 1451.6,957.7 1452.6,953.2 1453.6,954.1 1454.6,953.4 1455.6,961.5 1456.6,955 1457.6,960.6 1458.6,958.8 1459.6,961.9 1460.6,960 1461.6,957 1462.6,956.7 1463.6,957.5 1464.6,957.7 1465.6,955.8 1466.6,957.2 1467.6,961.6 1468.6,952.7 1469.6,958 1470.6,954.8 1471.6,957.8 1472.6,959.6 1473.6,957.1 1474.6,959.4" fill="none" stroke="#00ff00" stroke-width="7.4" stroke-linejoin="round" stroke-linecap="butt"/>
<polyline points="165.6,1447.5 166.6,1448.2 167.6,1446.1 168.6,1443.8 169.6,1445 170.6,1443 171.6,1446.2 172.6,1450.2 173.6,1443.9 174.6,1443.3 175.6,1446.7 176.6,1446 177.6,1445 178.6,1441.3 179.6,1444.1 180.6,1446.3 181.6,1439.3 182.6,1442 183.6,1437 184.6,1438.8 185.6,1436.8 186.6,1442 187.6,1438.3 188.6,1443.3 189.6,1442.7 190.6,1441.4 191.6,1433.3 192.6,1439.8 193.6,1441.2 194.6,1441.6 195.6,1435.8 196.6,1439.2 197.6,1437.3 198.6,1437.7 199.6,1443.8 200.6,1437.3 201.6,1439.7 202.6,1442.7 203.6,1437.5 204.6,1438.9 205.6,1439.5 206.6,1439.1 207.6,1434.5 208.6,1438.8 209.6,1443 210.6,1432.9 211.6,1441 212.6,1438.3 213.6,1435.5 214.6,1444.4 215.6,1440 216.6,1433.1 217.6,1437.3 218.6,1439 219.6,1436.2 220.6,1439.1 221.6,1436.4 222.6,1438.8 223.6,1441.4 224.6,1434 225.6,1437 226.6,1434.6 227.6,1436.6 228.6,1431.9 229.6,1434 230.6,1435.3 231.6,1439.1 232.6,1439.9 233.6,1431.2 234.6,1433 235.6,1438 236.6,1428.7 237.6,1434 238.6,1435.2 239.6,1440 240.6,1437.9 241.6,1434.3 242.6,1434.1 243.6,1434.5 244.6,1440.7 245.6,1433.8 246.6,1434.2 247.6,1436.5 248.6,1434.7 249.6,1434.4 250.6,1431.1 251.6,1435 252.6,1433.4 253.6,1439.1 254.6,1437.3 255.6,1434.8 256.6,1437.3 257.6,1433.6 258.6,1438.6 259.6,1434.8 260.6,1436.8 261.6,1430.1 262.6,1435.9 263.6,1428.6 264.6,1427.4 265.6,1433.5 266.6,1431.4 267.6,1435.1 268.6,1442.6 269.6,1431.5 270.6,1432.3 271.6,1435.2 272.6,1436.2 273.6,1433.8 274.6,1433.7 275.6,1436.9 276.6,1436.2 277.6,1430.6 278.6,1434.1 279.6,1434.4 280.6,1430.5 281.6,1435.2 282.6,1431.2 283.6,1437.8 284.6,1434.9 285.6,1434.6 286.6,1432.1 287.6,1433.8 288.6,1427 289.6,1430.1 290.6,1435.5 291.6,1426.5 292.6,1437.2 293.6,1427.9 294.6,1436.9 295.6,1431.1 296.6,1437 297.6,1434.7 298.6,1428.7 299.6,1438.7 300.6,1439.4 301.6,1434 302.6,1433.2 303.6,1433.7 304.6,1430.7 305.6,1438.2 306.6,1432.3 307.6,1434.1 308.6,1431.5 309.6,1432.1 310.6,1429.8 311.6,1438.9 312.6,1433.9 313.6,1437.9 314.6,1434.5 315.6,1432 316.6,1433.4 317.6,1432.5 318.6,1434.6 319.6,1433.3 320.6,1433.6 321.6,1429.7 322.6,1431.8 323.6,1440.7 324.6,1432.4 325.6,1431.1 326.6,1436.1 327.6,1440 328.6,1429.7 329.6,1434.2 330.6,1432.8 331.6,1428.8 332.6,1437.8 333.6,1435.1 334.6,1435.5 335.6,1432.6 336.6,1436.9 337.6,1433.4 338.6,1434.9 339.6,1431.5 340.6,1431.2 341.6,1440.3 342.6,1433.8 343.6,1436.7 344.6,1435.6 345.6,1434.2 346.6,1434 347.6,1438.1 348.6,1434.8 349.6,1435.4 350.6,1436 351.6,1440.2 352.6,1438.5 353.6,1437.5 354.6,1434.2 355.6,1431.3 356.6,1439.6 357.6,1439.7 358.6,1435.8 359.6,1438.3 360.6,1439.2 361.6,1439.4 362.6,1439.8 363.6,1435 364.6,1441.9 365.6,1432.3 366.6,1439.7 367.6,1438.5 368.6,1439.9 369.6,1443.4 370.6,1442.1 371.6,1433 372.6,1431.1 373.6,1439.9 374.6,1433.6 375.6,1437.1 376.6,1440.1 377.6,1431.6 378.6,1430 379.6,1438.3 380.6,1437.6 381.6,1436.7 382.6,1437.7 383.6,1434.7 384.6,1432.5 385.6,1437.2 386.6,1434.5 387.6,1432.2 388.6,1439.7 389.6,1437.8 390.6,1439.5 391.6,1434.7 392.6,1435.9 393.6,1434.8 394.6,1435.3 395.6,1439 396.6,1435.8 397.6,1439.7 398.6,1439.7 399.6,1445.5 400.6,1434 401.6,1441.8 402.6,1438.5 403.6,1438.8 404.6,1434 405.6,1437.4 406.6,1441.6 407.6,1438.8 408.6,1439.5 409.6,1438.3 410.6,1443.2 411.6,1439.3 412.6,1432.1 413.6,1437.2 414.6,1433 415.6,1428.7 416.6,1437.9 417.6,1444.2 418.6,1440 419.6,1436 420.6,1436.8 421.6,1443.7 422.6,1440.6 423.6,1440.3 424.6,1440 425.6,1440.4 426.6,1442.9 427.6,1442.2 428.6,1441.1 429.6,1437 430.6,1442.2 431.6,1438.3 432.6,1444.2 433.6,1436.6 434.6,1440.3 435.6,1440.8 436.6,1436.6 437.6,1446.6 438.6,1445.8 439.6,1439.6 440.6,1443.7 441.6,1442.4 442.6,1432.8 443.6,1442.1 444.6,1441.2 445.6,1441.7 446.6,1438 447.6,1440.7 448.6,1441.1 449.6,1445.5 450.6,1442.8 451.6,1441.8 452.6,1446.8 453.6,1440.2 454.6,1440.8 455.6,1436.3 456.6,1447.1 457.6,1445.3 458.6,1445.2 459.6,1444.4 460.6,1442.7 461.6,1443.1 462.6,1441.7 463.6,1441.9 464.6,1442.8 465.6,1447.5 466.6,1444.5 467.6,1442.6 468.6,1441.1 469.6,1440.9 470.6,1448 471.6,1444.6 472.6,1443.3 473.6,1442.1 474.6,1439.8 475.6,1443.1 476.6,1446.1 477.6,1442.2 478.6,1442.8 479.6,1442.8 480.6,1443.9 481.6,1438.7 482.6,1443 483.6,1441.1 484.6,1446.5 485.6,1441.5 486.6,1445.7 487.6,1448.7 488.6,1443.1 489.6,1442.3 490.6,1444.7 491.6,1444.2 492.6,1441.2 493.6,1445.7 494.6,1450.5 495.6,1443.6 496.6,1443.9 497.6,1441.4 498.6,1445.6 499.6,1440.9 500.6,1441.3 501.6,1448.6 502.6,1442.1 503.6,1448.1 504.6,1449.5 505.6,1445.7 506.6,1446.7 507.6,1450.9 508.6,1444.5 509.6,1443.4 510.6,1441.2 511.6,1445.4 512.6,1449.8 513.6,1448.2 514.6,1442.6 515.6,1442.9 516.6,1444 517.6,1446.5 518.6,1445 519.6,1446.3 520.6,1446.6 521.6,1444.9 522.6,1445.7 523.6,1446.5 524.6,1445.7 525.6,1447.5 526.6,1451.6 527.6,1447.9 528.6,1446.3 529.6,1441.3 530.6,1447.4 531.6,1440.6 532.6,1442.3 533.6,1449 534.6,1448.6 535.6,1446.1 536.6,1441.6 537.6,1445.6 538.6,1444.7 539.6,1448.6 540.6,1453.4 541.6,1447.5 542.6,1444.7 543.6,1443.6 544.6,1446.9 545.6,1446.6 546.6,1443.8 547.6,1447.6 548.6,1443.9 549.6,1450.5 550.6,1450.4 551.6,1450.5 552.6,1446.1 553.6,1449 554.6,1447.1 555.6,1446.4 556.6,1446.5 557.6,1443.7 558.6,1443.2 559.6,1449.5 560.6,1446.4 561.6,1447.3 562.6,1449.1 563.6,1440.7 564.6,1442.7 565.6,1444.7 566.6,1444.3 567.6,1441 568.6,1443.8 569.6,1440.2 570.6,1434.9 571.6,1434.6 572.6,1438.6 573.6,1437.2 574.6,1430.5 575.6,1440.2 576.6,1438.9 577.6,1442.2 578.6,1438.7 579.6,1440.4 580.6,1439.5 581.6,1451.2 582.6,1444.7 583.6,1450.7 584.6,1445.3 585.6,1448.4 586.6,1443.8 587.6,1448 588.6,1452.2 589.6,1446.3 590.6,1453 591.6,1451.2 592.6,1447.5 593.6,1449.1 594.6,1449.4 595.6,1450.6 596.6,1449.3 597.6,1448.5 598.6,1450.1 599.6,1448.1 600.6,1447.4 601.6,1450.9 602.6,1453.5 603.6,1446.8 604.6,1451 605.6,1449.2 606.6,1448.3 607.6,1453.4 608.6,1449.6 609.6,1455.2 610.6,1448.9 611.6,1452.1 612.6,1450.4 613.6,1448.9 614.6,1452.6 615.6,1450.5 616.6,1452.5 617.6,1450.7 618.6,1447.8 619.6,1450.4 620.6,1450.8 621.6,1453.3 622.6,1448 623.6,1450.3 624.6,1445.6 625.6,1452.1 626.6,1447.1 627.6,1444.9 628.6,1449.5 629.6,1452.5 630.6,1444.9 631.6,1445.8 632.6,1446.4 633.6,1444.9 634.6,1448.6 635.6,1444.9 636.6,1444.6 637.6,1447.6 638.6,1443.2 639.6,1445.5 640.6,1440.6 641.6,1438.9 642.6,1436.3 643.6,1445.5 644.6,1438.9 645.6,1439.8 646.6,1438.4 647.6,1438.1 648.6,1437 649.6,1440.4 650.6,1432 651.6,1429.3 652.6,1428.2 653.6,1424.3 654.6,1420.9 655.6,1408.6 656.6,1388.3 657.6,1359.4 658.6,1327.3 659.6,1288.9 660.6,1241 661.6,1199.8 662.6,1154.1 663.6,1113.4 664.3,1088.2 664.6,1079.2 664.8,1072.7 665.6,1098.2 666.6,1137.9 667.6,1182.1 668.6,1225.4 669.6,1269.4 670.6,1311 671.6,1347.7 672.6,1379.5 673.6,1401.6 674.6,1415.2 675.6,1422.9 676.6,1429.3 677.6,1432.2 678.6,1437.2 679.6,1440.1 680.6,1436.5 681.6,1435.9 682.6,1438.5 683.6,1437.8 684.6,1438.1 685.6,1440.6 686.6,1438.7 687.6,1444 688.6,1443.1 689.6,1445.2 690.6,1445 691.6,1444.4 692.6,1444.5 693.6,1446.9 694.6,1446.5 695.6,1449.1 696.6,1448.8 697.6,1445.5 698.6,1449.7 699.6,1446.2 700.6,1448.4 701.6,1449.5 702.6,1444.8 703.6,1450.7 704.6,1450.9 705.6,1450 706.6,1449.1 707.6,1449.1 708.6,1447.2 709.6,1448.8 710.6,1447.6 711.6,1448.8 712.6,1444.6 713.6,1447.8 714.6,1446.7 715.6,1445 716.6,1443.1 717.6,1444.5 718.6,1436.9 719.6,1440.1 720.6,1435.7 721.6,1431.3 722.6,1428.4 723.6,1426 724.6,1430.9 725.6,1437.9 726.6,1440.9 727.6,1442.7 728.6,1439.7 729.6,1446.5 730.6,1449.4 731.6,1450 732.6,1448.8 733.6,1444.8 734.6,1452.3 735.6,1450 736.6,1444.1 737.6,1452.4 738.6,1447.7 739.6,1448.6 740.6,1450.6 741.6,1456 742.6,1451.7 743.6,1453.6 744.6,1457.7 745.6,1457.4 746.6,1452.9 747.6,1452.7 748.6,1450 749.6,1451.6 750.6,1454.7 751.6,1454.7 752.6,1454 753.6,1456.5 754.6,1451.7 755.6,1453.7 756.6,1455.9 757.6,1455.6 758.6,1457 759.6,1455.2 760.6,1453.4 761.6,1455.2 762.6,1451.6 763.6,1449.9 764.6,1456 765.6,1454.3 766.6,1455.3 767.6,1449.9 768.6,1453.6 769.6,1453 770.6,1452.3 771.6,1448.6 772.6,1453.8 773.6,1457.2 774.6,1455.9 775.6,1453.3 776.6,1454.9 777.6,1457 778.6,1447.5 779.6,1454.7 780.6,1456.5 781.6,1457 782.6,1459.7 783.6,1458.2 784.6,1456.1 785.6,1456.1 786.6,1457.4 787.6,1453.8 788.6,1455.2 789.6,1457.8 790.6,1460.7 791.6,1455 792.6,1455.3 793.6,1456 794.6,1459.1 795.6,1455.4 796.6,1459.5 797.6,1452.9 798.6,1455 799.6,1455 800.6,1457.6 801.6,1458.4 802.6,1451.5 803.6,1453.1 804.6,1456.5 805.6,1453.8 806.6,1451.4 807.6,1458.4 808.6,1456.9 809.6,1456.9 810.6,1454.3 811.6,1458.4 812.6,1454.9 813.6,1458.6 814.6,1453.1 815.6,1453.3 816.6,1456.2 817.6,1453.7 818.6,1457.4 819.6,1456.3 820.6,1453.1 821.6,1455.8 822.6,1454.7 823.6,1458.1 824.6,1453.9 825.6,1454.5 826.6,1458.9 827.6,1461.7 828.6,1461.1 829.6,1455.8 830.6,1456.3 831.6,1459.8 832.6,1455.3 833.6,1453 834.6,1456 835.6,1456.9 836.6,1453.4 837.6,1451.2 838.6,1451.8 839.6,1457.5 840.6,1453.6 841.6,1455.3 842.6,1456.3 843.6,1457.4 844.6,1454.8 845.6,1457.1 846.6,1453.3 847.6,1454.7 848.6,1452.9 849.6,1458.8 850.6,1455.6 851.6,1453.7 852.6,1454.8 853.6,1455.1 854.6,1457.6 855.6,1451.4 856.6,1452.9 857.6,1454.7 858.6,1462.6 859.6,1458.3 860.6,1455.4 861.6,1457.7 862.6,1461.3 863.6,1455.1 864.6,1454.8 865.6,1459 866.6,1457.1 867.6,1457.6 868.6,1454.4 869.6,1461 870.6,1460.4 871.6,1457.3 872.6,1457.6 873.6,1450.3 874.6,1457.5 875.6,1455.2 876.6,1456.9 877.6,1457.6 878.6,1454.8 879.6,1451.2 880.6,1456.8 881.6,1453.8 882.6,1454.9 883.6,1454.1 884.6,1454.9 885.6,1449.5 886.6,1459.1 887.6,1456.5 888.6,1458.8 889.6,1461.1 890.6,1455.8 891.6,1450.9 892.6,1453.4 893.6,1452.5 894.6,1454.4 895.6,1456 896.6,1450.4 897.6,1456.7 898.6,1451.7 899.6,1456.6 900.6,1455.5 901.6,1454.9 902.6,1455.6 903.6,1454.3 904.6,1454.1 905.6,1451.2 906.6,1455.7 907.6,1460.8 908.6,1461.1 909.6,1459.3 910.6,1457.7 911.6,1454 912.6,1459.7 913.6,1455.6 914.6,1455.6 915.6,1455 916.6,1456 917.6,1454.6 918.6,1455.5 919.6,1452.8 920.6,1454.8 921.6,1461.9 922.6,1455.6 923.6,1455.1 924.6,1457.2 925.6,1457.7 926.6,1452.7 927.6,1455.2 928.6,1458.2 929.6,1456.5 930.6,1456.1 931.6,1459.9 932.6,1453.9 933.6,1456 934.6,1454.3 935.6,1459.8 936.6,1450.5 937.6,1453.9 938.6,1454.3 939.6,1457.5 940.6,1457.3 941.6,1459.5 942.6,1451.5 943.6,1457.7 944.6,1454.9 945.6,1453.9 946.6,1457.1 947.6,1453.2 948.6,1450.1 949.6,1454.7 950.6,1451.6 951.6,1453.9 952.6,1456.7 953.6,1456.5 954.6,1459.9 955.6,1455.1 956.6,1451.5 957.6,1453.6 958.6,1453.2 959.6,1452.4 960.6,1456.8 961.6,1453.9 962.6,1450.3 963.6,1457.5 964.6,1455.3 965.6,1456.6 966.6,1455.9 967.6,1457.3 968.6,1455.7 969.6,1458.9 970.6,1456.7 971.6,1456.6 972.6,1456.7 973.6,1451.6 974.6,1455.1 975.6,1454.9 976.6,1456.1 977.6,1451.9 978.6,1460 979.6,1455.8 980.6,1452.3 981.6,1450.9 982.6,1454.8 983.6,1455.3 984.6,1453.6 985.6,1455.8 986.6,1453.8 987.6,1457 988.6,1453.5 989.6,1455.4 990.6,1458.1 991.6,1462.4 992.6,1452.8 993.6,1454.2 994.6,1453.2 995.6,1457.6 996.6,1452.4 997.6,1454.1 998.6,1455.4 999.6,1452.8 1000.6,1452.9 1001.6,1454.1 1002.6,1449.8 1003.6,1451.5 1004.6,1454.3 1005.6,1455.8 1006.6,1454.9 1007.6,1450.6 1008.6,1454.1 1009.6,1457.5 1010.6,1456.9 1011.6,1455.2 1012.6,1453 1013.6,1457.1 1014.6,1453.8 1015.6,1452.2 1016.6,1453.2 1017.6,1459.3 1018.6,1455.9 1019.6,1458.5 1020.6,1454 1021.6,1457.9 1022.6,1453.7 1023.6,1454.9 1024.6,1462 1025.6,1457.4 1026.6,1453.9 1027.6,1455.1 1028.6,1456.2 1029.6,1458.6 1030.6,1454 1031.6,1450.6 1032.6,1454.5 1033.6,1455.3 1034.6,1455.6 1035.6,1458.8 1036.6,1456.1 1037.6,1457.4 1038.6,1452.3 1039.6,1457.6 1040.6,1460.9 1041.6,1457.3 1042.6,1455.9 1043.6,1455.6 1044.6,1460 1045.6,1452.7 1046.6,1454.9 1047.6,1456.4 1048.6,1457.2 1049.6,1454 1050.6,1456 1051.6,1454.4 1052.6,1455.5 1053.6,1454.8 1054.6,1452.1 1055.6,1455.1 1056.6,1457.5 1057.6,1452.5 1058.6,1454.5 1059.6,1456.9 1060.6,1452.3 1061.6,1455.6 1062.6,1452.3 1063.6,1458.2 1064.6,1461.4 1065.6,1460.6 1066.6,1454.5 1067.6,1457.1 1068.6,1455.4 1069.6,1455.4 1070.6,1459.3 1071.6,1451.5 1072.6,1457.9 1073.6,1454.9 1074.6,1458.9 1075.6,1455.5 1076.6,1453.2 1077.6,1455.8 1078.6,1457 1079.6,1455 1080.6,1456.2 1081.6,1453.4 1082.6,1448.9 1083.6,1457 1084.6,1456.3 1085.6,1454.6 1086.6,1454.1 1087.6,1456.5 1088.6,1452.2 1089.6,1451.2 1090.6,1452.4 1091.6,1455.9 1092.6,1448.9 1093.6,1455.8 1094.6,1451 1095.6,1450 1096.6,1456.6 1097.6,1453.2 1098.6,1450.2 1099.6,1453 1100.6,1456.7 1101.6,1457.6 1102.6,1453.4 1103.6,1455.8 1104.6,1456.7 1105.6,1453.1 1106.6,1455.9 1107.6,1454.9 1108.6,1453.5 1109.6,1453.7 1110.6,1455.2 1111.6,1455.1 1112.6,1453.5 1113.6,1453.9 1114.6,1458.1 1115.6,1455.6 1116.6,1457.5 1117.6,1458.3 1118.6,1456.7 1119.6,1461.2 1120.6,1452.9 1121.6,1457.3 1122.6,1454.2 1123.6,1460.1 1124.6,1459.7 1125.6,1449.8 1126.6,1452.5 1127.6,1456.9 1128.6,1457.3 1129.6,1457.1 1130.6,1454.9 1131.6,1456.4 1132.6,1456.9 1133.6,1454.9 1134.6,1457.9 1135.6,1449 1136.6,1456.9 1137.6,1452.4 1138.6,1457.7 1139.6,1454.5 1140.6,1452.8 1141.6,1456.2 1142.6,1452.7 1143.6,1452.7 1144.6,1451 1145.6,1455.1 1146.6,1456.5 1147.6,1458 1148.6,1454.8 1149.6,1458 1150.6,1455.3 1151.6,1455 1152.6,1456.8 1153.6,1458.1 1154.6,1454.3 1155.6,1454.6 1156.6,1454.8 1157.6,1455.5 1158.6,1452.8 1159.6,1458 1160.6,1454.2 1161.6,1456.5 1162.6,1453 1163.6,1456.2 1164.6,1456.3 1165.6,1454.2 1166.6,1460.8 1167.6,1456.3 1168.6,1460.1 1169.6,1457.9 1170.6,1453.5 1171.6,1454.3 1172.6,1456.5 1173.6,1455.5 1174.6,1455.5 1175.6,1454.6 1176.6,1450.5 1177.6,1454.8 1178.6,1449.4 1179.6,1456.4 1180.6,1453.4 1181.6,1453.5 1182.6,1454.8 1183.6,1456.1 1184.6,1451.5 1185.6,1450.7 1186.6,1452.5 1187.6,1449.9 1188.6,1452.8 1189.6,1459.7 1190.6,1452.6 1191.6,1457.2 1192.6,1451.8 1193.6,1456.3 1194.6,1454.6 1195.6,1455.3 1196.6,1457 1197.6,1460.2 1198.6,1456 1199.6,1455.8 1200.6,1452.9 1201.6,1457.1 1202.6,1454.9 1203.6,1457.8 1204.6,1455.4 1205.6,1460.2 1206.6,1450.2 1207.6,1454.8 1208.6,1457.9 1209.6,1454.6 1210.6,1453.4 1211.6,1454.9 1212.6,1451.9 1213.6,1455.9 1214.6,1462.2 1215.6,1458.7 1216.6,1452.6 1217.6,1453.3 1218.6,1454.5 1219.6,1458.3 1220.6,1453.4 1221.6,1453.8 1222.6,1458 1223.6,1458 1224.6,1454.7 1225.6,1452.7 1226.6,1451.5 1227.6,1453.8 1228.6,1449.7 1229.6,1457.7 1230.6,1454 1231.6,1457 1232.6,1460.8 1233.6,1458.9 1234.6,1452.6 1235.6,1458.1 1236.6,1458.9 1237.6,1453.7 1238.6,1453.2 1239.6,1455.5 1240.6,1451.5 1241.6,1459.8 1242.6,1449.3 1243.6,1452.8 1244.6,1455.1 1245.6,1455.2 1246.6,1456.3 1247.6,1456.6 1248.6,1455.3 1249.6,1458.9 1250.6,1450.1 1251.6,1455.8 1252.6,1453.9 1253.6,1456.2 1254.6,1456.5 1255.6,1453.4 1256.6,1454.1 1257.6,1458 1258.6,1456.8 1259.6,1454.1 1260.6,1461.4 1261.6,1462.1 1262.6,1452 1263.6,1456.7 1264.6,1462.7 1265.6,1458 1266.6,1456.5 1267.6,1455.4 1268.6,1454.5 1269.6,1455.4 1270.6,1454.5 1271.6,1458 1272.6,1454.9 1273.6,1454.8 1274.6,1452.7 1275.6,1455.9 1276.6,1453.6 1277.6,1455.5 1278.6,1458.8 1279.6,1457 1280.6,1457.4 1281.6,1457 1282.6,1456.2 1283.6,1455.7 1284.6,1455.2 1285.6,1458.1 1286.6,1453.1 1287.6,1459.7 1288.6,1456.1 1289.6,1454 1290.6,1454.7 1291.6,1454.2 1292.6,1456.5 1293.6,1454.1 1294.6,1459.2 1295.6,1454 1296.6,1449.9 1297.6,1454.1 1298.6,1450.7 1299.6,1456 1300.6,1459 1301.6,1457.8 1302.6,1452.5 1303.6,1454 1304.6,1460.9 1305.6,1457 1306.6,1456.1 1307.6,1459 1308.6,1462.7 1309.6,1459.6 1310.6,1456.5 1311.6,1457.1 1312.6,1457.8 1313.6,1454.5 1314.6,1453.3 1315.6,1456.3 1316.6,1453.6 1317.6,1456 1318.6,1456.4 1319.6,1462.5 1320.6,1453.9 1321.6,1455.8 1322.6,1455.7 1323.6,1457.4 1324.6,1459 1325.6,1454.9 1326.6,1454 1327.6,1451.8 1328.6,1453.7 1329.6,1457.6 1330.6,1456.3 1331.6,1453.5 1332.6,1455.2 1333.6,1456.3 1334.6,1457.6 1335.6,1454.6 1336.6,1455.5 1337.6,1451.3 1338.6,1453.1 1339.6,1460.6 1340.6,1450.3 1341.6,1455.3 1342.6,1456.8 1343.6,1455.2 1344.6,1454 1345.6,1456.1 1346.6,1456.2 1347.6,1456 1348.6,1451.2 1349.6,1455.8 1350.6,1453.9 1351.6,1454.8 1352.6,1456.9 1353.6,1458 1354.6,1458.7 1355.6,1454.9 1356.6,1458.7 1357.6,1459.4 1358.6,1459.3 1359.6,1460 1360.6,1455.9 1361.6,1455.8 1362.6,1458.5 1363.6,1452.6 1364.6,1456.8 1365.6,1454.8 1366.6,1455.2 1367.6,1451.5 1368.6,1453.8 1369.6,1456.1 1370.6,1458.6 1371.6,1458.8 1372.6,1455.9 1373.6,1455.6 1374.6,1453.7 1375.6,1457 1376.6,1455.1 1377.6,1457.3 1378.6,1460.2 1379.6,1455.1 1380.6,1450.9 1381.6,1452.4 1382.6,1450.5 1383.6,1450.9 1384.6,1457.4 1385.6,1454.3 1386.6,1449.4 1387.6,1455.2 1388.6,1456.8 1389.6,1452.5 1390.6,1451.9 1391.6,1453 1392.6,1455 1393.6,1456.2 1394.6,1458 1395.6,1458.3 1396.6,1458.5 1397.6,1459.2 1398.6,1457.5 1399.6,1451.7 1400.6,1455.6 1401.6,1456.9 1402.6,1455.1 1403.6,1458.7 1404.6,1455.3 1405.6,1453.8 1406.6,1460.2 1407.6,1458.1 1408.6,1456.9 1409.6,1458.9 1410.6,1459.2 1411.6,1457.3 1412.6,1449.8 1413.6,1454.6 1414.6,1455.2 1415.6,1453.8 1416.6,1457 1417.6,1459.6 1418.6,1455.1 1419.6,1453.4 1420.6,1461.9 1421.6,1455.2 1422.6,1453.1 1423.6,1457.1 1424.6,1457.6 1425.6,1454.6 1426.6,1458.6 1427.6,1455.2 1428.6,1454 1429.6,1457 1430.6,1458.6 1431.6,1454.8 1432.6,1457.4 1433.6,1456.2 1434.6,1464.1 1435.6,1454.6 1436.6,1460.2 1437.6,1456.4 1438.6,1456.2 1439.6,1458.5 1440.6,1458.9 1441.6,1459.9 1442.6,1457.4 1443.6,1454.9 1444.6,1455.1 1445.6,1457.9 1446.6,1458.1 1447.6,1460.3 1448.6,1457.7 1449.6,1459.4 1450.6,1460.6 1451.6,1457 1452.6,1452.5 1453.6,1453.4 1454.6,1452.7 1455.6,1460.8 1456.6,1454.3 1457.6,1459.9 1458.6,1458.1 1459.6,1461.2 1460.6,1459.3 1461.6,1456.3 1462.6,1456 1463.6,1456.8 1464.6,1457 1465.6,1455.1 1466.6,1456.5 1467.6,1460.9 1468.6,1452 1469.6,1457.3 1470.6,1454.1 1471.6,1457.1 1472.6,1458.9 1473.6,1456.4 1474.6,1458.7" fill="none" stroke="#ff0000" stroke-width="7.4" stroke-linejoin="round" stroke-linecap="butt"/>
<polyline points="165.6,1947.5 166.6,1952.4 167.6,1949.1 168.6,1951.3 169.6,1950.4 170.6,1945.1 171.6,1948.5 172.6,1950.2 173.6,1952.6 174.6,1950.1 175.6,1950 176.6,1946.8 177.6,1952 178.6,1952.6 179.6,1949.2 180.6,1948.6 181.6,1945.9 182.6,1950.6 183.6,1953.9 184.6,1950.1 185.6,1951 186.6,1949.6 187.6,1946.6 188.6,1950.9 189.6,1945.9 190.6,1947.8 191.6,1948.7 192.6,1949.8 193.6,1948.8 194.6,1948.6 195.6,1946.3 196.6,1945.2 197.6,1947.8 198.6,1946.2 199.6,1945 200.6,1945 201.6,1946.4 202.6,1943.7 203.6,1944.6 204.6,1944 205.6,1947.5 206.6,1947.8 207.6,1950.9 208.6,1943.9 209.6,1945.5 210.6,1948.6 211.6,1946.2 212.6,1946 213.6,1949.9 214.6,1945.8 215.6,1944.1 216.6,1943.7 217.6,1946.9 218.6,1946.8 219.6,1943.4 220.6,1944.1 221.6,1947.1 222.6,1947.1 223.6,1944.6 224.6,1947.1 225.6,1946.9 226.6,1942.1 227.6,1945 228.6,1946.4 229.6,1944.3 230.6,1941.1 231.6,1944.8 232.6,1946.8 233.6,1948.5 234.6,1940.8 235.6,1950.5 236.6,1942.8 237.6,1947 238.6,1947.5 239.6,1947 240.6,1945.2 241.6,1942.5 242.6,1946.1 243.6,1943.3 244.6,1939.5 245.6,1950.5 246.6,1946.1 247.6,1948.3 248.6,1942.7 249.6,1947.5 250.6,1947.8 251.6,1947.6 252.6,1944.4 253.6,1941.9 254.6,1944 255.6,1939.7 256.6,1940.7 257.6,1944.4 258.6,1942.1 259.6,1943.8 260.6,1943.9 261.6,1948.1 262.6,1946.7 263.6,1943.9 264.6,1946.5 265.6,1942.3 266.6,1943.2 267.6,1945.8 268.6,1941.2 269.6,1943.2 270.6,1941 271.6,1944 272.6,1947.1 273.6,1942.1 274.6,1944.1 275.6,1941.7 276.6,1941.2 277.6,1941 278.6,1946.6 279.6,1948.4 280.6,1944.5 281.6,1941.9 282.6,1944.9 283.6,1942.7 284.6,1945 285.6,1943.9 286.6,1943.9 287.6,1944.5 288.6,1942 289.6,1942.4 290.6,1939.6 291.6,1942.3 292.6,1940.2 293.6,1942.8 294.6,1941.1 295.6,1943.3 296.6,1944 297.6,1940.1 298.6,1941.4 299.6,1941.1 300.6,1944.6 301.6,1946.6 302.6,1944.8 303.6,1942.3 304.6,1946.1 305.6,1939.8 306.6,1946.2 307.6,1941.6 308.6,1937.2 309.6,1948.6 310.6,1946.3 311.6,1940.8 312.6,1943.4 313.6,1942.6 314.6,1943.2 315.6,1939.9 316.6,1941.6 317.6,1944.1 318.6,1943.6 319.6,1945.6 320.6,1943.3 321.6,1948.1 322.6,1941.7 323.6,1943.8 324.6,1939.2 325.6,1940.6 326.6,1946.1 327.6,1941.4 328.6,1944.5 329.6,1943.3 330.6,1941.3 331.6,1942.7 332.6,1942.4 333.6,1942.5 334.6,1945.2 335.6,1945 336.6,1942.5 337.6,1941.8 338.6,1944.4 339.6,1943.6 340.6,1946 341.6,1949.4 342.6,1945.7 343.6,1943.9 344.6,1943.7 345.6,1942.3 346.6,1942.3 347.6,1942.2 348.6,1943.5 349.6,1943.4 350.6,1945.9 351.6,1943.6 352.6,1944.1 353.6,1942 354.6,1948 355.6,1945.7 356.6,1948.4 357.6,1946.4 358.6,1947.9 359.6,1944.4 360.6,1946.4 361.6,1950.5 362.6,1942.6 363.6,1947.5 364.6,1948.6 365.6,1946.1 366.6,1946.8 367.6,1947.9 368.6,1944 369.6,1946.3 370.6,1943.7 371.6,1944.2 372.6,1944.3 373.6,1945.4 374.6,1946 375.6,1946.7 376.6,1942.9 377.6,1949.9 378.6,1948.3 379.6,1947.5 380.6,1945.3 381.6,1945.9 382.6,1947.3 383.6,1947 384.6,1942.8 385.6,1947.8 386.6,1952.3 387.6,1942.6 388.6,1948.5 389.6,1947.3 390.6,1946.3 391.6,1949.4 392.6,1944.3 393.6,1947.1 394.6,1949.8 395.6,1946.5 396.6,1946.1 397.6,1947.2 398.6,1946.2 399.6,1950.2 400.6,1945.4 401.6,1949 402.6,1944.8 403.6,1948.7 404.6,1947.2 405.6,1942.4 406.6,1947.5 407.6,1945.5 408.6,1946.8 409.6,1950.8 410.6,1945.6 411.6,1945.8 412.6,1950.8 413.6,1948.2 414.6,1951.1 415.6,1948.8 416.6,1946.5 417.6,1948.1 418.6,1950.7 419.6,1950.2 420.6,1948.5 421.6,1948.6 422.6,1948.4 423.6,1947.5 424.6,1952.5 425.6,1948.8 426.6,1946.7 427.6,1948 428.6,1950.4 429.6,1950.3 430.6,1948.8 431.6,1947.9 432.6,1949.3 433.6,1946.1 434.6,1946.9 435.6,1950.9 436.6,1948.5 437.6,1950.2 438.6,1951.9 439.6,1950.8 440.6,1949.7 441.6,1953.7 442.6,1951 443.6,1949.2 444.6,1951.2 445.6,1950.7 446.6,1948.4 447.6,1950.2 448.6,1949.8 449.6,1946.5 450.6,1949.9 451.6,1949.7 452.6,1949.5 453.6,1947.3 454.6,1949.7 455.6,1950.3 456.6,1950.6 457.6,1948.4 458.6,1951.7 459.6,1948.4 460.6,1950.2 461.6,1953.1 462.6,1949.5 463.6,1949.9 464.6,1952.8 465.6,1950.2 466.6,1950.4 467.6,1951.4 468.6,1952.9 469.6,1947.1 470.6,1949.6 471.6,1949.4 472.6,1949.3 473.6,1949.7 474.6,1949.8 475.6,1951.9 476.6,1949.8 477.6,1951.6 478.6,1952.2 479.6,1950.2 480.6,1951.8 481.6,1954.5 482.6,1952.2 483.6,1950.6 484.6,1951.6 485.6,1950.2 486.6,1952.3 487.6,1953.3 488.6,1950.5 489.6,1951.6 490.6,1953.9 491.6,1951.2 492.6,1952.4 493.6,1950.3 494.6,1950.7 495.6,1951.3 496.6,1955.8 497.6,1951.6 498.6,1951.4 499.6,1951.4 500.6,1952.1 501.6,1953.5 502.6,1952.7 503.6,1955.8 504.6,1952.8 505.6,1954.9 506.6,1953 507.6,1953.6 508.6,1950.3 509.6,1952.5 510.6,1952.6 511.6,1952.3 512.6,1949.3 513.6,1954.2 514.6,1952.2 515.6,1952.2 516.6,1952.5 517.6,1952.6 518.6,1953.6 519.6,1951 520.6,1951.5 521.6,1953.5 522.6,1953.3 523.6,1952.5 524.6,1952.2 525.6,1951.8 526.6,1953.1 527.6,1955.1 528.6,1951.6 529.6,1955.7 530.6,1954.6 531.6,1952.6 532.6,1954.6 533.6,1951.1 534.6,1950.7 535.6,1951.4 536.6,1952.8 537.6,1953 538.6,1952.7 539.6,1953.7 540.6,1950.2 541.6,1954.3 542.6,1951.4 543.6,1952.6 544.6,1953 545.6,1951.9 546.6,1951.6 547.6,1952.2 548.6,1953.7 549.6,1954.6 550.6,1954.6 551.6,1952.3 552.6,1952.6 553.6,1952.4 554.6,1954.5 555.6,1950.8 556.6,1955.7 557.6,1953.1 558.6,1952.7 559.6,1954.4 560.6,1955.4 561.6,1954.4 562.6,1955.5 563.6,1954.1 564.6,1955.7 565.6,1955.8 566.6,1953.8 567.6,1956.1 568.6,1954.2 569.6,1954.1 570.6,1952.6 571.6,1953.5 572.6,1955.1 573.6,1952 574.6,1954.9 575.6,1954.5 576.6,1954.4 577.6,1950.7 578.6,1953.8 579.6,1954.9 580.6,1952.8 581.6,1954.1 582.6,1950.5 583.6,1954.9 584.6,1953 585.6,1955.2 586.6,1951.3 587.6,1954.9 588.6,1953.6 589.6,1955.1 590.6,1952.6 591.6,1953 592.6,1957.1 593.6,1952.7 594.6,1952.8 595.6,1953.4 596.6,1952.4 597.6,1955.5 598.6,1956.2 599.6,1952.7 600.6,1951.2 601.6,1955.3 602.6,1955.2 603.6,1954.7 604.6,1955.1 605.6,1952.2 606.6,1953.1 607.6,1951.3 608.6,1951.2 609.6,1954.5 610.6,1952.1 611.6,1956.1 612.6,1952.9 613.6,1951.8 614.6,1953.7 615.6,1955 616.6,1953.1 617.6,1950.5 618.6,1952.6 619.6,1953.9 620.6,1951.1 621.6,1950.5 622.6,1952.7 623.6,1951.2 624.6,1949.1 625.6,1949.8 626.6,1948.8 627.6,1949.8 628.6,1949.1 629.6,1950 630.6,1948.8 631.6,1945.2 632.6,1947.2 633.6,1947.2 634.6,1945.8 635.6,1945.6 636.6,1942.4 637.6,1940.6 638.6,1941.5 639.6,1937.5 640.6,1934.5 641.6,1936.4 642.6,1932.2 643.6,1930.3 644.6,1926.4 645.6,1923.4 646.6,1920.1 647.6,1916.8 648.6,1912.1 649.6,1902.8 650.6,1896.4 651.6,1883.5 652.6,1865.3 653.6,1844.4 654.6,1822.5 655.6,1799.6 656.6,1777.8 657.6,1752.3 658.6,1727.1 659.6,1700.2 660.6,1670.3 661.6,1627.3 662.6,1600.2 663.6,1586.3 664.3,1583.2 664.6,1583.5 664.8,1584.7 665.6,1594.1 666.6,1612.4 667.6,1654.8 668.6,1689.3 669.6,1716.8 670.6,1742.4 671.6,1767.9 672.6,1790.9 673.6,1814.6 674.6,1836.3 675.6,1857.3 676.6,1877.6 677.6,1892.3 678.6,1901.8 679.6,1908.7 680.6,1916.1 681.6,1918.2 682.6,1923.5 683.6,1926.8 684.6,1929.9 685.6,1933.1 686.6,1933.6 687.6,1937.7 688.6,1938.6 689.6,1939.6 690.6,1940.3 691.6,1941.9 692.6,1945 693.6,1944.4 694.6,1946.6 695.6,1948.7 696.6,1949.3 697.6,1950.6 698.6,1948.8 699.6,1948.3 700.6,1951.6 701.6,1951.2 702.6,1952.7 703.6,1951.7 704.6,1953.6 705.6,1953.5 706.6,1953.7 707.6,1953.7 708.6,1953.8 709.6,1953.7 710.6,1953.9 711.6,1955.1 712.6,1953.3 713.6,1956.4 714.6,1954.1 715.6,1955.7 716.6,1954.4 717.6,1954.4 718.6,1957.5 719.6,1954.6 720.6,1953.4 721.6,1954.3 722.6,1954.9 723.6,1958.3 724.6,1955.9 725.6,1956.9 726.6,1954.5 727.6,1956.4 728.6,1956.9 729.6,1958.5 730.6,1955.3 731.6,1957.1 732.6,1956.8 733.6,1955.1 734.6,1956.5 735.6,1956.3 736.6,1953.6 737.6,1957.6 738.6,1957.6 739.6,1956.4 740.6,1955.2 741.6,1959 742.6,1957.5 743.6,1958.6 744.6,1959.2 745.6,1956.7 746.6,1958.5 747.6,1957.2 748.6,1957.5 749.6,1957.5 750.6,1957.7 751.6,1959.3 752.6,1958 753.6,1957.7 754.6,1957.6 755.6,1958.5 756.6,1956.9 757.6,1957.5 758.6,1958.2 759.6,1957.5 760.6,1958.2 761.6,1957.6 762.6,1961.1 763.6,1960.3 764.6,1959.2 765.6,1958.6 766.6,1961.6 767.6,1959.2 768.6,1958.7 769.6,1959.3 770.6,1959.3 771.6,1960.8 772.6,1959 773.6,1961.8 774.6,1958 775.6,1960.1 776.6,1957.9 777.6,1961.7 778.6,1958.9 779.6,1959.3 780.6,1960.7 781.6,1961.1 782.6,1958.1 783.6,1959.1 784.6,1957.8 785.6,1959.8 786.6,1959.6 787.6,1959.3 788.6,1958.9 789.6,1959.3 790.6,1958.9 791.6,1960.6 792.6,1961.9 793.6,1957.4 794.6,1959.8 795.6,1959.4 796.6,1960.6 797.6,1958.7 798.6,1959.8 799.6,1958.6 800.6,1960.9 801.6,1960.1 802.6,1959.8 803.6,1960.5 804.6,1959.7 805.6,1958 806.6,1960.8 807.6,1960.4 808.6,1959.8 809.6,1961.3 810.6,1961.6 811.6,1958.6 812.6,1959 813.6,1962 814.6,1961.8 815.6,1959 816.6,1958.5 817.6,1959.2 818.6,1959.4 819.6,1957.9 820.6,1960 821.6,1958.3 822.6,1958.4 823.6,1961.2 824.6,1959.1 825.6,1959.9 826.6,1960.8 827.6,1961.1 828.6,1959.6 829.6,1960.1 830.6,1958.9 831.6,1962.3 832.6,1960.8 833.6,1958.6 834.6,1960 835.6,1960.9 836.6,1960.6 837.6,1962.4 838.6,1961.8 839.6,1959.3 840.6,1959.9 841.6,1958.3 842.6,1960.3 843.6,1960.2 844.6,1963.5 845.6,1960.1 846.6,1957.3 847.6,1959.1 848.6,1960.1 849.6,1958.4 850.6,1958.9 851.6,1959.5 852.6,1960.4 853.6,1959.8 854.6,1958.8 855.6,1961 856.6,1959.3 857.6,1959.4 858.6,1958.2 859.6,1959 860.6,1960.8 861.6,1957.9 862.6,1959.9 863.6,1960.9 864.6,1959.5 865.6,1960.3 866.6,1958.5 867.6,1961.7 868.6,1961.4 869.6,1960.3 870.6,1957.7 871.6,1958.6 872.6,1961.3 873.6,1962.2 874.6,1960.4 875.6,1961.6 876.6,1959.2 877.6,1959.8 878.6,1960 879.6,1960.6 880.6,1958 881.6,1961.2 882.6,1961.7 883.6,1958.5 884.6,1958.2 885.6,1960.5 886.6,1959.1 887.6,1956.9 888.6,1961.1 889.6,1960.2 890.6,1959.4 891.6,1962.7 892.6,1960.2 893.6,1959 894.6,1960.1 895.6,1958.6 896.6,1959 897.6,1960.5 898.6,1959.3 899.6,1959.4 900.6,1962.2 901.6,1961.1 902.6,1961 903.6,1960.7 904.6,1960.6 905.6,1961.9 906.6,1960 907.6,1962.4 908.6,1958.8 909.6,1959.7 910.6,1958.2 911.6,1959.5 912.6,1960.6 913.6,1961.9 914.6,1959.1 915.6,1960 916.6,1959.5 917.6,1959 918.6,1958.4 919.6,1960 920.6,1957.7 921.6,1960.1 922.6,1959.9 923.6,1959.1 924.6,1958.6 925.6,1958.1 926.6,1962.3 927.6,1958.1 928.6,1961.9 929.6,1960.7 930.6,1959.4 931.6,1958.3 932.6,1961.2 933.6,1962.1 934.6,1958.6 935.6,1959.4 936.6,1961.2 937.6,1960.2 938.6,1962.4 939.6,1959 940.6,1960.5 941.6,1958.1 942.6,1962.5 943.6,1958.8 944.6,1956.9 945.6,1959.6 946.6,1959.5 947.6,1962.2 948.6,1959.2 949.6,1959.7 950.6,1960.4 951.6,1961.7 952.6,1959.6 953.6,1961 954.6,1960.3 955.6,1959.2 956.6,1959.7 957.6,1959.6 958.6,1958.4 959.6,1961.1 960.6,1957.8 961.6,1961.1 962.6,1960.8 963.6,1959.4 964.6,1958.5 965.6,1959.2 966.6,1960.1 967.6,1960.4 968.6,1959.8 969.6,1960.7 970.6,1958.7 971.6,1959.7 972.6,1957.4 973.6,1960.4 974.6,1959.6 975.6,1958.8 976.6,1960.9 977.6,1960.3 978.6,1955.7 979.6,1959.4 980.6,1957.4 981.6,1960.7 982.6,1962.5 983.6,1958.6 984.6,1959.4 985.6,1959 986.6,1959.7 987.6,1960.1 988.6,1960.9 989.6,1958 990.6,1961.3 991.6,1958 992.6,1959.6 993.6,1960.7 994.6,1960.1 995.6,1958 996.6,1958.3 997.6,1958.6 998.6,1959.1 999.6,1960.6 1000.6,1957.5 1001.6,1959.7 1002.6,1959.9 1003.6,1959.8 1004.6,1959.7 1005.6,1961.1 1006.6,1959.7 1007.6,1960.2 1008.6,1959.8 1009.6,1961.4 1010.6,1956.6 1011.6,1960.7 1012.6,1958.7 1013.6,1958.7 1014.6,1957.8 1015.6,1956.6 1016.6,1958.5 1017.6,1958.1 1018.6,1959.7 1019.6,1957.1 1020.6,1960.9 1021.6,1959.4 1022.6,1958.7 1023.6,1958.1 1024.6,1958 1025.6,1957.5 1026.6,1958.3 1027.6,1959 1028.6,1958.8 1029.6,1957.2 1030.6,1958.7 1031.6,1957.8 1032.6,1959.2 1033.6,1961.4 1034.6,1959.8 1035.6,1958.6 1036.6,1956.9 1037.6,1957.2 1038.6,1956.8 1039.6,1959.9 1040.6,1958 1041.6,1959.1 1042.6,1958.2 1043.6,1959.1 1044.6,1960.8 1045.6,1958.1 1046.6,1958.6 1047.6,1958 1048.6,1960.2 1049.6,1957.7 1050.6,1957.5 1051.6,1957.2 1052.6,1957.2 1053.6,1959.6 1054.6,1962.4 1055.6,1957.7 1056.6,1960.3 1057.6,1959.4 1058.6,1957.6 1059.6,1958.7 1060.6,1958.7 1061.6,1958.2 1062.6,1961.6 1063.6,1956.6 1064.6,1959.6 1065.6,1959.5 1066.6,1958.3 1067.6,1959.3 1068.6,1960.2 1069.6,1959.3 1070.6,1959.6 1071.6,1960 1072.6,1956.5 1073.6,1961 1074.6,1962.1 1075.6,1960.4 1076.6,1960.4 1077.6,1957.3 1078.6,1959 1079.6,1958.1 1080.6,1958.4 1081.6,1960.4 1082.6,1958.1 1083.6,1959 1084.6,1956.7 1085.6,1958.9 1086.6,1959.3 1087.6,1958.2 1088.6,1958.2 1089.6,1961.6 1090.6,1957.6 1091.6,1957.8 1092.6,1958.1 1093.6,1960.8 1094.6,1961.9 1095.6,1959.6 1096.6,1958.3 1097.6,1958.7 1098.6,1960.6 1099.6,1958 1100.6,1961.1 1101.6,1961.1 1102.6,1959.3 1103.6,1960.1 1104.6,1960.2 1105.6,1961.3 1106.6,1957.9 1107.6,1960.8 1108.6,1958.8 1109.6,1958.3 1110.6,1959.4 1111.6,1959 1112.6,1958 1113.6,1957.2 1114.6,1958.1 1115.6,1961.2 1116.6,1961.9 1117.6,1960.2 1118.6,1960.9 1119.6,1958.7 1120.6,1959.3 1121.6,1959.7 1122.6,1958 1123.6,1958.1 1124.6,1959.5 1125.6,1959 1126.6,1958 1127.6,1959.9 1128.6,1959.1 1129.6,1960.8 1130.6,1959.4 1131.6,1959 1132.6,1959.6 1133.6,1959.2 1134.6,1958.6 1135.6,1958.9 1136.6,1960.4 1137.6,1960.3 1138.6,1961.2 1139.6,1957.3 1140.6,1959 1141.6,1959 1142.6,1959.7 1143.6,1958.9 1144.6,1958.9 1145.6,1960.6 1146.6,1959.8 1147.6,1958 1148.6,1961.3 1149.6,1960.9 1150.6,1958.8 1151.6,1960.7 1152.6,1958.6 1153.6,1961.1 1154.6,1959.3 1155.6,1958.6 1156.6,1959.1 1157.6,1958.6 1158.6,1959.9 1159.6,1959.9 1160.6,1959.7 1161.6,1958.9 1162.6,1954.9 1163.6,1959.8 1164.6,1957.2 1165.6,1960 1166.6,1961.1 1167.6,1960 1168.6,1959.2 1169.6,1959.5 1170.6,1959.5 1171.6,1959 1172.6,1959 1173.6,1958.5 1174.6,1961.3 1175.6,1959.7 1176.6,1961 1177.6,1959.4 1178.6,1959.8 1179.6,1959.5 1180.6,1960.4 1181.6,1960.8 1182.6,1960.1 1183.6,1958.9 1184.6,1958.8 1185.6,1961.9 1186.6,1959.4 1187.6,1959.4 1188.6,1961.7 1189.6,1961.2 1190.6,1960.5 1191.6,1959.3 1192.6,1962.9 1193.6,1960.3 1194.6,1960.6 1195.6,1959.6 1196.6,1958 1197.6,1958.1 1198.6,1960.4 1199.6,1960.4 1200.6,1959.6 1201.6,1958.4 1202.6,1958 1203.6,1959.5 1204.6,1958 1205.6,1961.1 1206.6,1961.4 1207.6,1963.6 1208.6,1961 1209.6,1959.1 1210.6,1958.8 1211.6,1955.4 1212.6,1959.1 1213.6,1959.7 1214.6,1961.2 1215.6,1960.7 1216.6,1960.7 1217.6,1960.2 1218.6,1960.8 1219.6,1961.8 1220.6,1958.6 1221.6,1959.4 1222.6,1958.2 1223.6,1962.1 1224.6,1961.6 1225.6,1960.9 1226.6,1958.4 1227.6,1960.2 1228.6,1959.7 1229.6,1960.1 1230.6,1959.7 1231.6,1960.7 1232.6,1959.5 1233.6,1961.1 1234.6,1960.3 1235.6,1959.6 1236.6,1959.8 1237.6,1959.4 1238.6,1961.1 1239.6,1959.6 1240.6,1960.4 1241.6,1959.5 1242.6,1958.1 1243.6,1961.2 1244.6,1958.6 1245.6,1960.9 1246.6,1960.5 1247.6,1957.8 1248.6,1958.8 1249.6,1959.3 1250.6,1958.9 1251.6,1958.5 1252.6,1961 1253.6,1959.7 1254.6,1960.5 1255.6,1959.4 1256.6,1960.4 1257.6,1959 1258.6,1960 1259.6,1960.8 1260.6,1960.1 1261.6,1959.4 1262.6,1958.6 1263.6,1960.2 1264.6,1960.4 1265.6,1959.7 1266.6,1959 1267.6,1960.7 1268.6,1963.2 1269.6,1959.6 1270.6,1960.4 1271.6,1960.5 1272.6,1956.7 1273.6,1960.2 1274.6,1959.1 1275.6,1961.8 1276.6,1959.7 1277.6,1959 1278.6,1959.7 1279.6,1960.2 1280.6,1959.3 1281.6,1959.9 1282.6,1958.2 1283.6,1959.7 1284.6,1961 1285.6,1962.6 1286.6,1960.9 1287.6,1960.4 1288.6,1961.5 1289.6,1961.3 1290.6,1962.2 1291.6,1961.4 1292.6,1959.8 1293.6,1960.3 1294.6,1960.2 1295.6,1960.4 1296.6,1960.3 1297.6,1959 1298.6,1957.3 1299.6,1959.1 1300.6,1957.4 1301.6,1960.1 1302.6,1960 1303.6,1957.8 1304.6,1960.9 1305.6,1961.1 1306.6,1960.1 1307.6,1962.2 1308.6,1962.4 1309.6,1958.4 1310.6,1961.3 1311.6,1960.6 1312.6,1960.5 1313.6,1961.2 1314.6,1959.1 1315.6,1959.2 1316.6,1958.9 1317.6,1959 1318.6,1959.9 1319.6,1958.1 1320.6,1958.6 1321.6,1960.8 1322.6,1959.9 1323.6,1960.5 1324.6,1957.5 1325.6,1959 1326.6,1959.3 1327.6,1960 1328.6,1959.2 1329.6,1961.2 1330.6,1959.9 1331.6,1960 1332.6,1960 1333.6,1960.9 1334.6,1959.4 1335.6,1961.5 1336.6,1960.6 1337.6,1960.2 1338.6,1960.1 1339.6,1960.7 1340.6,1961.3 1341.6,1961.2 1342.6,1960.5 1343.6,1961.1 1344.6,1960.2 1345.6,1961.6 1346.6,1960 1347.6,1957.3 1348.6,1961.7 1349.6,1960.1 1350.6,1958.5 1351.6,1959.7 1352.6,1958.9 1353.6,1962.7 1354.6,1960.6 1355.6,1958 1356.6,1960.7 1357.6,1959.5 1358.6,1962.5 1359.6,1958.6 1360.6,1957.1 1361.6,1960.1 1362.6,1959.5 1363.6,1959.5 1364.6,1957.2 1365.6,1960.6 1366.6,1962.2 1367.6,1957.5 1368.6,1961.5 1369.6,1959.3 1370.6,1963.1 1371.6,1960.6 1372.6,1959.8 1373.6,1961.4 1374.6,1960.7 1375.6,1959.2 1376.6,1960.9 1377.6,1959.3 1378.6,1957.7 1379.6,1962.6 1380.6,1959.5 1381.6,1959.2 1382.6,1960.4 1383.6,1958 1384.6,1958.2 1385.6,1959.4 1386.6,1959.3 1387.6,1960.1 1388.6,1961.5 1389.6,1959.4 1390.6,1960.6 1391.6,1960.8 1392.6,1958.6 1393.6,1960.3 1394.6,1958.8 1395.6,1961.4 1396.6,1960.6 1397.6,1960 1398.6,1958.3 1399.6,1960.2 1400.6,1959 1401.6,1960.9 1402.6,1959.8 1403.6,1958.9 1404.6,1961.2 1405.6,1960.9 1406.6,1959.2 1407.6,1961.5 1408.6,1959.6 1409.6,1959.6 1410.6,1960.2 1411.6,1959 1412.6,1959.4 1413.6,1959.8 1414.6,1962 1415.6,1961.9 1416.6,1959.7 1417.6,1962.1 1418.6,1959.9 1419.6,1960.5 1420.6,1961.1 1421.6,1960.4 1422.6,1963.1 1423.6,1960.3 1424.6,1958.4 1425.6,1961.7 1426.6,1959.5 1427.6,1959.6 1428.6,1956.1 1429.6,1961.3 1430.6,1961.1 1431.6,1961 1432.6,1961.3 1433.6,1962.2 1434.6,1959.9 1435.6,1961.2 1436.6,1959 1437.6,1959.5 1438.6,1961.4 1439.6,1960.5 1440.6,1958.3 1441.6,1960.5 1442.6,1959.8 1443.6,1958.9 1444.6,1960.6 1445.6,1959.5 1446.6,1958 1447.6,1958.6 1448.6,1962.3 1449.6,1958 1450.6,1960.3 1451.6,1960.8 1452.6,1960.8 1453.6,1958.4 1454.6,1959.6 1455.6,1960.2 1456.6,1961 1457.6,1959.2 1458.6,1958.5 1459.6,1961.3 1460.6,1961.4 1461.6,1960.5 1462.6,1959.2 1463.6,1960.5 1464.6,1960.1 1465.6,1961.1 1466.6,1958.4 1467.6,1960.2 1468.6,1959.8 1469.6,1958.6 1470.6,1960.3 1471.6,1960 1472.6,1959.5 1473.6,1960.5 1474.6,1958.2" fill="none" stroke="#000000" stroke-width="7.6" stroke-linejoin="round" stroke-linecap="butt"/>
</g>
<g shape-rendering="crispEdges"><rect x="794" y="68" width="663" height="113" fill="#000"/><rect x="775.5" y="50.5" width="663" height="111" fill="#fff" stroke="#000" stroke-width="3"/></g><rect x="783" y="103.0" width="188" height="7" rx="2" fill="#0000ff"/><text transform="translate(988.46,135.10) scale(0.9595,1)" font-size="82">ZnO:Mn:5%</text>
<g shape-rendering="crispEdges"><rect x="797" y="562" width="663" height="113" fill="#000"/><rect x="778.5" y="544.5" width="662" height="111" fill="#fff" stroke="#000" stroke-width="3"/></g><line x1="790" y1="600" x2="970" y2="600" stroke="#00ff00" stroke-width="8" stroke-linecap="round" shape-rendering="crispEdges"/><text transform="translate(990.85,629.10) scale(0.9617,1)" font-size="82">ZnO:Mn:3%</text>
<g shape-rendering="crispEdges"><rect x="802" y="1074" width="664" height="112" fill="#000"/><rect x="784.5" y="1055.5" width="662" height="112" fill="#fff" stroke="#000" stroke-width="3"/></g><line x1="795" y1="1111" x2="976" y2="1111" stroke="#ff0000" stroke-width="8" stroke-linecap="round" shape-rendering="crispEdges"/><text transform="translate(996.96,1140.10) scale(0.9599,1)" font-size="82">ZnO:Mn:1%</text>
<g shape-rendering="crispEdges"><rect x="1047" y="1567" width="383" height="113" fill="#000"/><rect x="1028.5" y="1548.5" width="382" height="112" fill="#fff" stroke="#000" stroke-width="3"/></g><line x1="1039" y1="1605" x2="1220" y2="1605" stroke="#000000" stroke-width="8" stroke-linecap="round" shape-rendering="crispEdges"/><text transform="translate(1240.62,1633.10) scale(0.9742,1)" font-size="82">ZnO</text>
<text transform="translate(165.2,2113.8) scale(0.969,1)" font-size="81.3" text-anchor="middle">20</text><text transform="translate(328.8,2113.8) scale(0.969,1)" font-size="81.3" text-anchor="middle">25</text><text transform="translate(492.3,2113.8) scale(0.969,1)" font-size="81.3" text-anchor="middle">30</text><text transform="translate(655.9,2113.8) scale(0.969,1)" font-size="81.3" text-anchor="middle">35</text><text transform="translate(819.5,2113.8) scale(0.969,1)" font-size="81.3" text-anchor="middle">40</text><text transform="translate(983.0,2113.8) scale(0.969,1)" font-size="81.3" text-anchor="middle">45</text><text transform="translate(1146.6,2113.8) scale(0.969,1)" font-size="81.3" text-anchor="middle">50</text><text transform="translate(1310.2,2113.8) scale(0.969,1)" font-size="81.3" text-anchor="middle">55</text><text transform="translate(1473.8,2113.8) scale(0.969,1)" font-size="81.3" text-anchor="middle">60</text>
<text transform="translate(523.44,2235.00) scale(0.9506,1)" font-size="111">2</text><text class="th" transform="translate(584.17,2235.30) scale(1.1364,1)" font-size="107.5">θ</text><text transform="translate(671.63,2234.90) scale(1.0172,1)" font-size="108">(Degree)</text>
<text transform="translate(124.50,1525.78) rotate(-90) scale(0.9960,1)" font-size="146.8">Intensity (a.u.)</text>
<text transform="translate(598.60,418.24) rotate(-90) scale(1.0004,1)" font-size="67">(100)</text><text transform="translate(736.80,196.26) rotate(-90) scale(1.0058,1)" font-size="67">(002)</text><text transform="translate(751.70,408.52) rotate(-90) scale(0.9964,1)" font-size="67">(101)</text>
</svg>
</body></html>
